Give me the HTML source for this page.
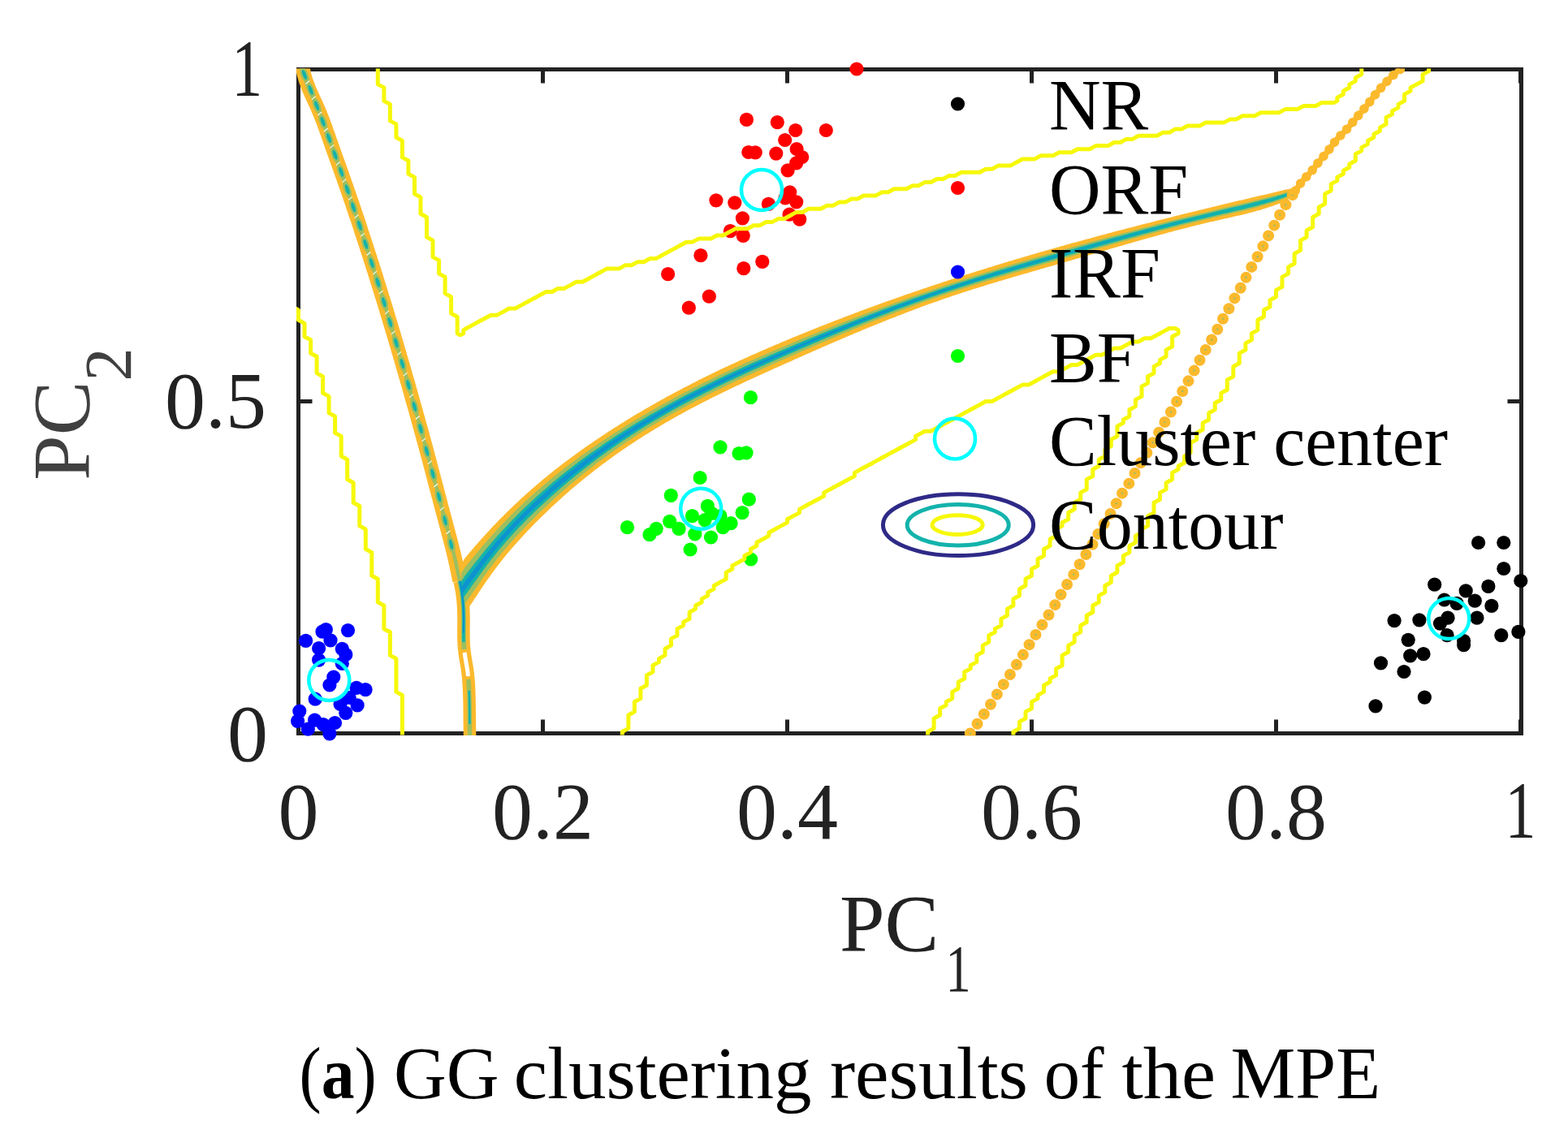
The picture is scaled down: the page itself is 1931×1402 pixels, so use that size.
<!DOCTYPE html>
<html><head><meta charset="utf-8"><title>GG clustering results of the MPE</title>
<style>html,body{margin:0;padding:0;background:#fff;}svg{display:block;}</style></head>
<body><svg width="1931" height="1402" viewBox="0 0 1931 1402">
<rect width="1931" height="1402" fill="#fff"/>
<g stroke="#222222" stroke-width="5" fill="none">
<rect x="367.5" y="85.5" width="1506.0" height="818.0" stroke-linejoin="miter"/>
<line x1="367.5" y1="903.5" x2="367.5" y2="886.5"/>
<line x1="367.5" y1="85.5" x2="367.5" y2="102.5"/>
<line x1="668.5" y1="903.5" x2="668.5" y2="886.5"/>
<line x1="668.5" y1="85.5" x2="668.5" y2="102.5"/>
<line x1="969.5" y1="903.5" x2="969.5" y2="886.5"/>
<line x1="969.5" y1="85.5" x2="969.5" y2="102.5"/>
<line x1="1270.5" y1="903.5" x2="1270.5" y2="886.5"/>
<line x1="1270.5" y1="85.5" x2="1270.5" y2="102.5"/>
<line x1="1571.5" y1="903.5" x2="1571.5" y2="886.5"/>
<line x1="1571.5" y1="85.5" x2="1571.5" y2="102.5"/>
<line x1="1872.5" y1="903.5" x2="1872.5" y2="886.5"/>
<line x1="1872.5" y1="85.5" x2="1872.5" y2="102.5"/>
<line x1="367.5" y1="903.5" x2="384.5" y2="903.5"/>
<line x1="1873.5" y1="903.5" x2="1856.5" y2="903.5"/>
<line x1="367.5" y1="494.5" x2="384.5" y2="494.5"/>
<line x1="1873.5" y1="494.5" x2="1856.5" y2="494.5"/>
<line x1="367.5" y1="85.5" x2="384.5" y2="85.5"/>
<line x1="1873.5" y1="85.5" x2="1856.5" y2="85.5"/>
</g>
<g fill="#000000"><circle cx="1820.6" cy="668.5" r="8.6"/><circle cx="1851.8" cy="668.5" r="8.6"/><circle cx="1851.8" cy="700.5" r="8.6"/><circle cx="1872.8" cy="715.5" r="8.6"/><circle cx="1766.7" cy="720.2" r="8.6"/><circle cx="1832.9" cy="722.4" r="8.6"/><circle cx="1805.2" cy="727.9" r="8.6"/><circle cx="1816.3" cy="740.2" r="8.6"/><circle cx="1836.9" cy="746.4" r="8.6"/><circle cx="1778.7" cy="739" r="8.6"/><circle cx="1794.1" cy="743.3" r="8.6"/><circle cx="1818.9" cy="761.2" r="8.6"/><circle cx="1783" cy="761.2" r="8.6"/><circle cx="1773.5" cy="768.1" r="8.6"/><circle cx="1782.1" cy="782.6" r="8.6"/><circle cx="1802.6" cy="789.5" r="8.6"/><circle cx="1802.6" cy="794.6" r="8.6"/><circle cx="1717.1" cy="764.7" r="8.6"/><circle cx="1747.9" cy="763.8" r="8.6"/><circle cx="1848.8" cy="782.6" r="8.6"/><circle cx="1869.9" cy="778.4" r="8.6"/><circle cx="1734.2" cy="788.3" r="8.6"/><circle cx="1736.7" cy="807.8" r="8.6"/><circle cx="1753" cy="805.7" r="8.6"/><circle cx="1700.5" cy="816.9" r="8.6"/><circle cx="1729" cy="827.5" r="8.6"/><circle cx="1754.4" cy="859.1" r="8.6"/><circle cx="1694" cy="869.9" r="8.6"/></g>
<g fill="#FF0000"><circle cx="919.4" cy="147.4" r="8.6"/><circle cx="957.3" cy="150.6" r="8.6"/><circle cx="979.7" cy="160.5" r="8.6"/><circle cx="1017.3" cy="160.5" r="8.6"/><circle cx="966.7" cy="172.5" r="8.6"/><circle cx="921.8" cy="187.5" r="8.6"/><circle cx="930.2" cy="187.9" r="8.6"/><circle cx="955.8" cy="189.1" r="8.6"/><circle cx="981.1" cy="183.5" r="8.6"/><circle cx="987.7" cy="193.5" r="8.6"/><circle cx="980.7" cy="200.9" r="8.6"/><circle cx="970.1" cy="209.9" r="8.6"/><circle cx="972.7" cy="236.8" r="8.6"/><circle cx="967" cy="244" r="8.6"/><circle cx="980.7" cy="248.8" r="8.6"/><circle cx="881.9" cy="246.8" r="8.6"/><circle cx="904.8" cy="249.8" r="8.6"/><circle cx="946.4" cy="251.4" r="8.6"/><circle cx="914.4" cy="268.8" r="8.6"/><circle cx="972.1" cy="264.2" r="8.6"/><circle cx="984.7" cy="270.2" r="8.6"/><circle cx="899.4" cy="284.7" r="8.6"/><circle cx="915.2" cy="290.3" r="8.6"/><circle cx="862.9" cy="314.7" r="8.6"/><circle cx="822.6" cy="337.7" r="8.6"/><circle cx="915.8" cy="330.7" r="8.6"/><circle cx="938.8" cy="322.3" r="8.6"/><circle cx="873.3" cy="365.2" r="8.6"/><circle cx="848.3" cy="379.2" r="8.6"/><circle cx="1055" cy="85" r="8.6"/></g>
<g fill="#0000FF"><circle cx="401.4" cy="775.5" r="8.6"/><circle cx="397" cy="778.2" r="8.6"/><circle cx="428.5" cy="776.6" r="8.6"/><circle cx="376.6" cy="789.3" r="8.6"/><circle cx="407" cy="788.8" r="8.6"/><circle cx="392.6" cy="798.7" r="8.6"/><circle cx="421.3" cy="799.3" r="8.6"/><circle cx="425.8" cy="806.4" r="8.6"/><circle cx="392.6" cy="813.1" r="8.6"/><circle cx="421.3" cy="817.5" r="8.6"/><circle cx="410.8" cy="834.1" r="8.6"/><circle cx="405.9" cy="844" r="8.6"/><circle cx="439" cy="847.4" r="8.6"/><circle cx="450.1" cy="849.6" r="8.6"/><circle cx="388.2" cy="861.2" r="8.6"/><circle cx="419.1" cy="867.3" r="8.6"/><circle cx="440.1" cy="868.9" r="8.6"/><circle cx="425.8" cy="878.3" r="8.6"/><circle cx="368.8" cy="876.1" r="8.6"/><circle cx="366.6" cy="888.3" r="8.6"/><circle cx="387.6" cy="887.2" r="8.6"/><circle cx="379.3" cy="898.2" r="8.6"/><circle cx="412.5" cy="890.5" r="8.6"/><circle cx="398.1" cy="892.7" r="8.6"/><circle cx="405.9" cy="903.8" r="8.6"/><circle cx="430.2" cy="859.5" r="8.6"/></g>
<g fill="#00FF00"><circle cx="924.4" cy="489.7" r="8.6"/><circle cx="887" cy="550.9" r="8.6"/><circle cx="910" cy="558.6" r="8.6"/><circle cx="919" cy="557.8" r="8.6"/><circle cx="862.1" cy="588.5" r="8.6"/><circle cx="826.3" cy="610.3" r="8.6"/><circle cx="922.3" cy="615.2" r="8.6"/><circle cx="914.1" cy="631.6" r="8.6"/><circle cx="871.4" cy="623.4" r="8.6"/><circle cx="852.5" cy="635.7" r="8.6"/><circle cx="824.7" cy="642.3" r="8.6"/><circle cx="808.2" cy="651.3" r="8.6"/><circle cx="800" cy="658.7" r="8.6"/><circle cx="772.5" cy="649.7" r="8.6"/><circle cx="836.1" cy="651.3" r="8.6"/><circle cx="855.8" cy="657.9" r="8.6"/><circle cx="875.5" cy="662" r="8.6"/><circle cx="890.3" cy="649.7" r="8.6"/><circle cx="900.1" cy="644.7" r="8.6"/><circle cx="887" cy="635.7" r="8.6"/><circle cx="876.3" cy="632.4" r="8.6"/><circle cx="850.1" cy="677" r="8.6"/><circle cx="924.7" cy="689" r="8.6"/><circle cx="868" cy="640.6" r="8.6"/></g>
<defs><clipPath id="ax"><rect x="365" y="84.5" width="1511" height="822"/></clipPath></defs>
<g clip-path="url(#ax)">
<g fill="none" stroke-linejoin="round" stroke-linecap="butt">
<path d="M495.4,905.5 L495.4,901.5 L495.4,897.4 L495.4,893.3 L495.4,889.2 L495.4,885.1 L495.4,881.0 L495.4,876.9 L495.4,872.8 L495.4,868.7 L495.4,864.6 L495.4,860.6 L495.4,856.5 L491.7,854.4 L487.9,852.4 L487.9,848.3 L487.9,844.2 L487.9,840.1 L487.9,836.0 L487.9,831.9 L487.9,827.8 L487.9,823.7 L487.9,819.7 L487.9,815.6 L487.9,811.5 L484.1,809.4 L480.4,807.4 L480.4,803.3 L480.4,799.2 L480.4,795.1 L480.4,791.0 L480.4,786.9 L480.4,782.8 L480.4,778.8 L476.6,776.7 L472.9,774.7 L472.9,770.6 L472.9,766.5 L472.9,762.4 L472.9,758.3 L472.9,754.2 L472.9,750.1 L472.9,746.0 L469.1,744.0 L465.3,741.9 L465.3,737.9 L465.3,733.8 L465.3,729.7 L465.3,725.6 L465.3,721.5 L465.3,717.4 L465.3,713.3 L461.6,711.3 L457.8,709.2 L457.8,705.1 L457.8,701.0 L457.8,697.0 L457.8,692.9 L457.8,688.8 L457.8,684.7 L457.8,680.6 L454.0,678.5 L450.3,676.5 L450.3,672.4 L450.3,668.3 L450.3,664.2 L450.3,660.1 L450.3,656.1 L450.3,652.0 L446.5,649.9 L442.8,647.9 L442.8,643.8 L442.8,639.7 L442.8,635.6 L442.8,631.5 L442.8,627.4 L442.8,623.3 L439.0,621.3 L435.2,619.2 L435.2,615.2 L435.2,611.1 L435.2,607.0 L435.2,602.9 L435.2,598.8 L435.2,594.7 L431.5,592.7 L427.7,590.6 L427.7,586.5 L427.7,582.4 L427.7,578.3 L427.7,574.3 L427.7,570.2 L427.7,566.1 L423.9,564.0 L420.2,562.0 L420.2,557.9 L420.2,553.8 L420.2,549.7 L420.2,545.6 L420.2,541.5 L420.2,537.4 L416.4,535.4 L412.6,533.4 L412.6,529.3 L412.6,525.2 L412.6,521.1 L412.6,517.0 L412.6,512.9 L408.9,510.9 L405.1,508.8 L405.1,504.7 L405.1,500.6 L405.1,496.5 L405.1,492.5 L405.1,488.4 L401.4,486.3 L397.6,484.3 L397.6,480.2 L397.6,476.1 L397.6,472.0 L397.6,467.9 L397.6,463.8 L393.8,461.8 L390.1,459.7 L390.1,455.6 L390.1,451.6 L390.1,447.5 L390.1,443.4 L390.1,439.3 L386.3,437.2 L382.6,435.2 L382.6,431.1 L382.6,427.0 L382.6,422.9 L382.6,418.8 L378.8,416.8 L375.0,414.7 L375.0,410.7 L375.0,406.6 L375.0,402.5 L375.0,398.4 L371.3,396.3 L367.5,394.3 L367.5,390.2 L367.5,386.1 L367.5,382.0 L363.7,380.0" stroke="#F6F80A" stroke-width="5"/>
<path d="M465.3,83.5 L465.3,87.5 L465.3,91.6 L465.3,95.7 L465.3,99.8 L465.3,103.9 L469.1,105.9 L472.9,108.0 L472.9,112.1 L472.9,116.2 L472.9,120.3 L472.9,124.4 L476.6,126.4 L480.4,128.4 L480.4,132.5 L480.4,136.6 L480.4,140.7 L480.4,144.8 L480.4,148.9 L484.1,150.9 L487.9,153.0 L487.9,157.1 L487.9,161.2 L487.9,165.3 L487.9,169.3 L491.7,171.4 L495.4,173.4 L495.4,177.5 L495.4,181.6 L495.4,185.7 L495.4,189.8 L495.4,193.9 L499.2,195.9 L502.9,198.0 L502.9,202.1 L502.9,206.2 L502.9,210.2 L502.9,214.3 L506.7,216.4 L510.5,218.4 L510.5,222.5 L510.5,226.6 L510.5,230.7 L510.5,234.8 L510.5,238.9 L514.2,240.9 L518.0,243.0 L518.0,247.1 L518.0,251.1 L518.0,255.2 L518.0,259.3 L518.0,263.4 L521.8,265.5 L525.5,267.5 L525.5,271.6 L525.5,275.7 L525.5,279.8 L525.5,283.9 L525.5,288.0 L525.5,292.0 L529.3,294.1 L533.0,296.1 L533.0,300.2 L533.0,304.3 L533.0,308.4 L533.0,312.5 L533.0,316.6 L536.8,318.6 L540.6,320.7 L540.6,324.8 L540.6,328.9 L540.6,332.9 L540.6,337.0 L544.3,339.1 L548.1,341.1 L548.1,345.2 L548.1,349.3 L548.1,353.4 L548.1,357.5 L548.1,361.6 L551.9,363.6 L555.6,365.7 L555.6,369.8 L555.6,373.8 L555.6,377.9 L555.6,382.0 L555.6,386.1 L559.4,388.2 L563.2,390.2 L563.2,394.3 L563.2,398.4 L563.2,402.5 L563.2,406.6 L563.2,410.7 L566.9,412.7 L570.7,410.7 L570.7,406.6 L574.4,404.5 L578.2,402.5 L582.0,400.4 L585.7,398.4 L589.5,396.3 L593.2,394.3 L597.0,392.2 L600.8,390.2 L604.5,388.2 L612.1,388.2 L615.8,386.1 L619.6,384.1 L623.3,382.0 L627.1,380.0 L634.6,380.0 L638.4,377.9 L642.2,375.9 L645.9,373.8 L649.7,371.8 L653.5,369.8 L657.2,367.7 L661.0,365.7 L664.7,363.6 L668.5,361.6 L672.3,359.5 L679.8,359.5 L683.5,357.5 L687.3,355.4 L694.8,355.4 L698.6,353.4 L702.4,351.4 L706.1,349.3 L709.9,347.3 L717.4,347.3 L721.2,345.2 L724.9,343.2 L728.7,341.1 L732.5,339.1 L736.2,337.0 L740.0,335.0 L743.8,332.9 L747.5,330.9 L755.0,330.9 L762.6,330.9 L766.3,328.9 L770.1,326.8 L777.6,326.8 L781.4,324.8 L785.1,322.7 L792.7,322.7 L796.4,320.7 L800.2,318.6 L807.7,318.6 L811.5,316.6 L815.2,314.5 L819.0,312.5 L822.8,310.4 L826.5,308.4 L830.3,306.4 L834.0,304.3 L837.8,302.3 L841.6,300.2 L845.3,298.2 L852.9,298.2 L856.6,296.1 L860.4,294.1 L867.9,294.1 L875.4,294.1 L879.2,292.0 L883.0,290.0 L890.5,290.0 L894.2,288.0 L898.0,285.9 L901.8,283.9 L905.5,281.8 L913.1,281.8 L920.6,281.8 L924.4,279.8 L928.1,277.7 L935.6,277.7 L939.4,275.7 L943.2,273.6 L950.7,273.6 L954.5,271.6 L958.2,269.6 L965.7,269.6 L969.5,267.5 L973.3,265.5 L977.0,263.4 L980.8,261.4 L988.3,261.4 L992.1,259.3 L995.8,257.3 L1003.4,257.3 L1010.9,257.3 L1014.7,255.2 L1018.4,253.2 L1025.9,253.2 L1029.7,251.1 L1033.5,249.1 L1041.0,249.1 L1044.8,247.1 L1048.5,245.0 L1056.0,245.0 L1059.8,243.0 L1063.6,240.9 L1071.1,240.9 L1078.6,240.9 L1082.4,238.9 L1086.1,236.8 L1093.7,236.8 L1097.4,234.8 L1101.2,232.7 L1108.7,232.7 L1116.2,232.7 L1120.0,230.7 L1123.8,228.7 L1131.3,228.7 L1135.0,226.6 L1138.8,224.6 L1146.3,224.6 L1150.1,222.5 L1153.9,220.5 L1161.4,220.5 L1165.2,218.4 L1168.9,216.4 L1176.4,216.4 L1180.2,214.3 L1184.0,212.3 L1191.5,212.3 L1199.0,212.3 L1206.5,212.3 L1210.3,210.2 L1214.1,208.2 L1221.6,208.2 L1225.4,206.2 L1229.1,204.1 L1236.6,204.1 L1244.2,204.1 L1247.9,202.1 L1251.7,200.0 L1255.5,198.0 L1259.2,195.9 L1266.7,195.9 L1274.3,195.9 L1278.0,193.9 L1281.8,191.8 L1289.3,191.8 L1296.8,191.8 L1300.6,189.8 L1304.4,187.8 L1311.9,187.8 L1319.4,187.8 L1323.2,185.7 L1326.9,183.7 L1334.5,183.7 L1342.0,183.7 L1345.8,181.6 L1349.5,179.6 L1357.0,179.6 L1364.6,179.6 L1368.3,177.5 L1372.1,175.5 L1379.6,175.5 L1383.4,173.4 L1387.1,171.4 L1394.7,171.4 L1398.4,169.3 L1402.2,167.3 L1409.7,167.3 L1417.2,167.3 L1424.8,167.3 L1428.5,165.3 L1432.3,163.2 L1439.8,163.2 L1443.6,161.2 L1447.3,159.1 L1454.9,159.1 L1458.6,157.1 L1462.4,155.0 L1469.9,155.0 L1477.4,155.0 L1481.2,153.0 L1485.0,150.9 L1492.5,150.9 L1500.0,150.9 L1507.5,150.9 L1511.3,148.9 L1515.1,146.9 L1522.6,146.9 L1526.3,144.8 L1530.1,142.8 L1537.6,142.8 L1545.2,142.8 L1548.9,140.7 L1552.7,138.7 L1560.2,138.7 L1567.7,138.7 L1575.3,138.7 L1579.0,136.6 L1582.8,134.6 L1590.3,134.6 L1597.8,134.6 L1601.6,132.5 L1605.4,130.5 L1612.9,130.5 L1620.4,130.5 L1624.2,128.4 L1627.9,126.4 L1635.5,126.4 L1643.0,126.4 L1646.8,124.4 L1646.8,120.3 L1650.5,118.2 L1654.3,116.2 L1654.3,112.1 L1658.0,110.0 L1661.8,108.0 L1661.8,103.9 L1665.6,101.9 L1669.3,99.8 L1669.3,95.7 L1673.1,93.7 L1676.8,91.6 L1676.8,87.5 L1676.8,83.5" stroke="#F6F80A" stroke-width="5"/>
<path d="M1142.6,905.5 L1142.6,901.5 L1146.3,899.4 L1150.1,897.4 L1150.1,893.3 L1150.1,889.2 L1150.1,885.1 L1153.9,883.0 L1157.6,881.0 L1157.6,876.9 L1157.6,872.8 L1161.4,870.8 L1165.2,868.7 L1165.2,864.6 L1168.9,862.6 L1172.7,860.6 L1172.7,856.5 L1172.7,852.4 L1176.4,850.3 L1180.2,848.3 L1180.2,844.2 L1180.2,840.1 L1184.0,838.1 L1187.7,836.0 L1187.7,831.9 L1187.7,827.8 L1191.5,825.8 L1195.2,823.7 L1195.2,819.7 L1199.0,817.6 L1202.8,815.6 L1202.8,811.5 L1202.8,807.4 L1206.5,805.3 L1210.3,803.3 L1210.3,799.2 L1210.3,795.1 L1214.1,793.1 L1217.8,791.0 L1217.8,786.9 L1217.8,782.8 L1221.6,780.8 L1225.4,778.8 L1225.4,774.7 L1229.1,772.6 L1232.9,770.6 L1232.9,766.5 L1232.9,762.4 L1236.6,760.4 L1240.4,758.3 L1240.4,754.2 L1240.4,750.1 L1244.2,748.1 L1247.9,746.0 L1247.9,741.9 L1247.9,737.9 L1251.7,735.8 L1255.5,733.8 L1255.5,729.7 L1255.5,725.6 L1259.2,723.5 L1263.0,721.5 L1263.0,717.4 L1263.0,713.3 L1266.7,711.3 L1270.5,709.2 L1270.5,705.1 L1270.5,701.0 L1274.3,699.0 L1278.0,697.0 L1278.0,692.9 L1278.0,688.8 L1281.8,686.7 L1285.5,684.7 L1285.5,680.6 L1285.5,676.5 L1289.3,674.5 L1293.1,672.4 L1293.1,668.3 L1293.1,664.2 L1296.8,662.2 L1300.6,660.1 L1300.6,656.1 L1300.6,652.0 L1304.4,649.9 L1308.1,647.9 L1308.1,643.8 L1311.9,641.7 L1315.7,639.7 L1315.7,635.6 L1315.7,631.5 L1319.4,629.5 L1323.2,627.4 L1323.2,623.3 L1323.2,619.2 L1326.9,617.2 L1330.7,615.2 L1330.7,611.1 L1330.7,607.0 L1334.5,604.9 L1338.2,602.9 L1338.2,598.8 L1338.2,594.7 L1338.2,590.6 L1342.0,588.6 L1345.8,586.5 L1345.8,582.4 L1345.8,578.3 L1349.5,576.3 L1353.3,574.3 L1353.3,570.2 L1353.3,566.1 L1357.0,564.0 L1360.8,562.0 L1360.8,557.9 L1360.8,553.8 L1364.6,551.8 L1368.3,549.7 L1368.3,545.6 L1368.3,541.5 L1372.1,539.5 L1375.9,537.4 L1375.9,533.4 L1375.9,529.3 L1375.9,525.2 L1379.6,523.1 L1383.4,521.1 L1383.4,517.0 L1387.1,515.0 L1390.9,512.9 L1390.9,508.8 L1390.9,504.7 L1394.7,502.7 L1398.4,500.6 L1398.4,496.5 L1398.4,492.5 L1402.2,490.4 L1406.0,488.4 L1406.0,484.3 L1406.0,480.2 L1406.0,476.1 L1409.7,474.1 L1413.5,472.0 L1413.5,467.9 L1413.5,463.8 L1417.2,461.8 L1421.0,459.7 L1421.0,455.6 L1421.0,451.6 L1424.8,449.5 L1428.5,447.5 L1428.5,443.4 L1432.3,441.3 L1436.1,439.3 L1436.1,435.2 L1436.1,431.1 L1439.8,429.1 L1443.6,427.0 L1443.6,422.9 L1443.6,418.8 L1443.6,414.7 L1447.3,412.7 L1451.1,410.7 L1451.1,406.6 L1447.3,404.5 L1439.8,404.5 L1436.1,406.6 L1432.3,408.6 L1428.5,410.7 L1424.8,412.7 L1421.0,414.7 L1417.2,416.8 L1409.7,416.8 L1406.0,418.8 L1402.2,420.9 L1394.7,420.9 L1390.9,422.9 L1387.1,425.0 L1383.4,427.0 L1379.6,429.1 L1372.1,429.1 L1368.3,431.1 L1364.6,433.1 L1360.8,435.2 L1357.0,437.2 L1349.5,437.2 L1345.8,439.3 L1342.0,441.3 L1338.2,443.4 L1334.5,445.4 L1330.7,447.5 L1326.9,449.5 L1319.4,449.5 L1315.7,451.6 L1311.9,453.6 L1308.1,455.6 L1304.4,457.7 L1296.8,457.7 L1293.1,459.7 L1289.3,461.8 L1285.5,463.8 L1281.8,465.9 L1278.0,467.9 L1274.3,470.0 L1270.5,472.0 L1266.7,474.1 L1259.2,474.1 L1255.5,476.1 L1251.7,478.1 L1247.9,480.2 L1244.2,482.2 L1240.4,484.3 L1236.6,486.3 L1232.9,488.4 L1229.1,490.4 L1225.4,492.5 L1221.6,494.5 L1214.1,494.5 L1210.3,496.5 L1206.5,498.6 L1202.8,500.6 L1199.0,502.7 L1195.2,504.7 L1191.5,506.8 L1187.7,508.8 L1184.0,510.9 L1180.2,512.9 L1176.4,515.0 L1172.7,517.0 L1168.9,519.0 L1165.2,521.1 L1161.4,523.1 L1157.6,525.2 L1153.9,527.2 L1150.1,529.3 L1146.3,531.3 L1138.8,531.3 L1135.0,533.4 L1131.3,535.4 L1127.5,537.4 L1127.5,541.5 L1123.8,543.6 L1120.0,545.6 L1116.2,547.7 L1112.5,549.7 L1108.7,551.8 L1105.0,553.8 L1101.2,555.9 L1097.4,557.9 L1093.7,559.9 L1089.9,562.0 L1086.1,564.0 L1082.4,566.1 L1078.6,568.1 L1074.9,570.2 L1071.1,572.2 L1067.3,574.3 L1063.6,576.3 L1059.8,578.3 L1056.0,580.4 L1052.3,582.4 L1052.3,586.5 L1048.5,588.6 L1044.8,590.6 L1041.0,592.7 L1037.2,594.7 L1033.5,596.8 L1029.7,598.8 L1025.9,600.8 L1022.2,602.9 L1018.4,604.9 L1014.7,607.0 L1014.7,611.1 L1010.9,613.1 L1007.1,615.2 L1003.4,617.2 L999.6,619.2 L995.8,621.3 L992.1,623.3 L988.3,625.4 L984.5,627.4 L984.5,631.5 L980.8,633.6 L977.0,635.6 L973.3,637.6 L969.5,639.7 L969.5,643.8 L965.7,645.8 L962.0,647.9 L958.2,649.9 L954.5,652.0 L950.7,654.0 L946.9,656.1 L946.9,660.1 L943.2,662.2 L939.4,664.2 L935.6,666.3 L931.9,668.3 L931.9,672.4 L928.1,674.5 L924.4,676.5 L924.4,680.6 L920.6,682.6 L916.8,684.7 L916.8,688.8 L913.1,690.8 L909.3,692.9 L905.5,694.9 L901.8,697.0 L901.8,701.0 L898.0,703.1 L894.2,705.1 L894.2,709.2 L894.2,713.3 L890.5,715.4 L886.7,717.4 L883.0,719.5 L879.2,721.5 L879.2,725.6 L875.4,727.6 L871.7,729.7 L871.7,733.8 L867.9,735.8 L864.2,737.9 L864.2,741.9 L860.4,744.0 L856.6,746.0 L856.6,750.1 L852.9,752.2 L849.1,754.2 L849.1,758.3 L849.1,762.4 L845.3,764.4 L841.6,766.5 L841.6,770.6 L837.8,772.6 L834.0,774.7 L834.0,778.8 L834.0,782.8 L830.3,784.9 L826.5,786.9 L826.5,791.0 L826.5,795.1 L822.8,797.2 L819.0,799.2 L819.0,803.3 L819.0,807.4 L815.2,809.4 L811.5,811.5 L811.5,815.6 L807.7,817.6 L804.0,819.7 L804.0,823.7 L804.0,827.8 L800.2,829.9 L796.4,831.9 L796.4,836.0 L796.4,840.1 L796.4,844.2 L792.7,846.2 L788.9,848.3 L788.9,852.4 L788.9,856.5 L788.9,860.6 L785.1,862.6 L781.4,864.6 L781.4,868.7 L781.4,872.8 L781.4,876.9 L777.6,879.0 L773.9,881.0 L773.9,885.1 L773.9,889.2 L773.9,893.3 L773.9,897.4 L770.1,899.4 L766.3,901.5 L766.3,905.5" stroke="#F6F80A" stroke-width="5"/>
<path d="M1759.6,83.5 L1759.6,87.5 L1755.9,89.6 L1752.1,91.6 L1752.1,95.7 L1752.1,99.8 L1748.3,101.9 L1744.6,103.9 L1740.8,105.9 L1737.1,108.0 L1737.1,112.1 L1733.3,114.1 L1729.5,116.2 L1729.5,120.3 L1729.5,124.4 L1725.8,126.4 L1722.0,128.4 L1722.0,132.5 L1718.2,134.6 L1714.5,136.6 L1714.5,140.7 L1710.7,142.8 L1707.0,144.8 L1707.0,148.9 L1707.0,153.0 L1703.2,155.0 L1699.4,157.1 L1699.4,161.2 L1695.7,163.2 L1691.9,165.3 L1691.9,169.3 L1688.1,171.4 L1684.4,173.4 L1684.4,177.5 L1680.6,179.6 L1676.8,181.6 L1676.8,185.7 L1673.1,187.8 L1669.3,189.8 L1669.3,193.9 L1669.3,198.0 L1665.6,200.0 L1661.8,202.1 L1661.8,206.2 L1658.0,208.2 L1654.3,210.2 L1654.3,214.3 L1650.5,216.4 L1646.8,218.4 L1646.8,222.5 L1643.0,224.6 L1639.2,226.6 L1639.2,230.7 L1639.2,234.8 L1635.5,236.8 L1631.7,238.9 L1631.7,243.0 L1631.7,247.1 L1631.7,251.1 L1627.9,253.2 L1624.2,255.2 L1624.2,259.3 L1624.2,263.4 L1620.4,265.5 L1616.7,267.5 L1616.7,271.6 L1616.7,275.7 L1616.7,279.8 L1612.9,281.8 L1609.1,283.9 L1609.1,288.0 L1609.1,292.0 L1605.4,294.1 L1601.6,296.1 L1601.6,300.2 L1601.6,304.3 L1601.6,308.4 L1597.8,310.4 L1594.1,312.5 L1594.1,316.6 L1594.1,320.7 L1594.1,324.8 L1590.3,326.8 L1586.6,328.9 L1586.6,332.9 L1586.6,337.0 L1582.8,339.1 L1579.0,341.1 L1579.0,345.2 L1579.0,349.3 L1579.0,353.4 L1575.3,355.4 L1571.5,357.5 L1571.5,361.6 L1571.5,365.7 L1567.7,367.7 L1564.0,369.8 L1564.0,373.8 L1564.0,377.9 L1560.2,380.0 L1556.5,382.0 L1556.5,386.1 L1556.5,390.2 L1552.7,392.2 L1548.9,394.3 L1548.9,398.4 L1548.9,402.5 L1548.9,406.6 L1545.2,408.6 L1541.4,410.7 L1541.4,414.7 L1541.4,418.8 L1537.6,420.9 L1533.9,422.9 L1533.9,427.0 L1533.9,431.1 L1530.1,433.1 L1526.3,435.2 L1526.3,439.3 L1526.3,443.4 L1526.3,447.5 L1522.6,449.5 L1518.8,451.6 L1518.8,455.6 L1518.8,459.7 L1518.8,463.8 L1515.1,465.9 L1511.3,467.9 L1511.3,472.0 L1511.3,476.1 L1511.3,480.2 L1507.5,482.2 L1503.8,484.3 L1503.8,488.4 L1503.8,492.5 L1500.0,494.5 L1496.2,496.5 L1496.2,500.6 L1496.2,504.7 L1492.5,506.8 L1488.7,508.8 L1488.7,512.9 L1488.7,517.0 L1485.0,519.0 L1481.2,521.1 L1481.2,525.2 L1481.2,529.3 L1477.4,531.3 L1473.7,533.4 L1473.7,537.4 L1473.7,541.5 L1469.9,543.6 L1466.2,545.6 L1466.2,549.7 L1466.2,553.8 L1466.2,557.9 L1462.4,559.9 L1458.6,562.0 L1458.6,566.1 L1458.6,570.2 L1454.9,572.2 L1451.1,574.3 L1451.1,578.3 L1447.3,580.4 L1443.6,582.4 L1443.6,586.5 L1443.6,590.6 L1439.8,592.7 L1436.1,594.7 L1436.1,598.8 L1436.1,602.9 L1432.3,604.9 L1428.5,607.0 L1428.5,611.1 L1428.5,615.2 L1424.8,617.2 L1421.0,619.2 L1421.0,623.3 L1421.0,627.4 L1421.0,631.5 L1417.2,633.6 L1413.5,635.6 L1413.5,639.7 L1413.5,643.8 L1413.5,647.9 L1409.7,649.9 L1406.0,652.0 L1406.0,656.1 L1402.2,658.1 L1398.4,660.1 L1398.4,664.2 L1398.4,668.3 L1394.7,670.4 L1390.9,672.4 L1390.9,676.5 L1390.9,680.6 L1387.1,682.6 L1383.4,684.7 L1383.4,688.8 L1383.4,692.9 L1379.6,694.9 L1375.9,697.0 L1375.9,701.0 L1375.9,705.1 L1372.1,707.2 L1368.3,709.2 L1368.3,713.3 L1368.3,717.4 L1364.6,719.5 L1360.8,721.5 L1360.8,725.6 L1360.8,729.7 L1357.0,731.7 L1353.3,733.8 L1353.3,737.9 L1353.3,741.9 L1349.5,744.0 L1345.8,746.0 L1345.8,750.1 L1345.8,754.2 L1342.0,756.3 L1338.2,758.3 L1338.2,762.4 L1338.2,766.5 L1334.5,768.5 L1330.7,770.6 L1330.7,774.7 L1330.7,778.8 L1326.9,780.8 L1323.2,782.8 L1323.2,786.9 L1323.2,791.0 L1319.4,793.1 L1315.7,795.1 L1315.7,799.2 L1315.7,803.3 L1311.9,805.3 L1308.1,807.4 L1308.1,811.5 L1308.1,815.6 L1308.1,819.7 L1304.4,821.7 L1300.6,823.7 L1300.6,827.8 L1300.6,831.9 L1296.8,834.0 L1293.1,836.0 L1293.1,840.1 L1289.3,842.2 L1285.5,844.2 L1285.5,848.3 L1285.5,852.4 L1281.8,854.4 L1278.0,856.5 L1278.0,860.6 L1274.3,862.6 L1270.5,864.6 L1270.5,868.7 L1270.5,872.8 L1266.7,874.9 L1263.0,876.9 L1263.0,881.0 L1263.0,885.1 L1259.2,887.1 L1255.5,889.2 L1255.5,893.3 L1255.5,897.4 L1251.7,899.4 L1247.9,901.5 L1247.9,905.5" stroke="#F6F80A" stroke-width="5"/>
</g>
<g stroke="none">
<path d="M372.5,80.0 L372.7,82.2 L373.0,84.4 L373.4,86.6 L373.8,88.8 L374.3,91.0 L374.9,93.1 L375.5,95.2 L376.1,97.4 L376.8,99.5 L377.5,101.6 L378.3,103.6 L379.1,105.7 L379.9,107.8 L380.7,109.8 L381.6,111.9 L382.5,113.9 L383.4,116.0 L384.4,118.0 L385.3,120.1 L386.2,122.1 L387.2,124.1 L388.1,126.2 L389.0,128.2 L390.0,130.3 L390.9,132.3 L391.8,134.4 L392.6,136.4 L393.5,138.5 L394.3,140.5 L395.2,142.6 L396.0,144.7 L396.8,146.8 L397.6,148.8 L398.4,150.9 L399.2,153.0 L399.9,155.1 L400.7,157.2 L401.5,159.3 L402.2,161.4 L402.9,163.5 L403.7,165.6 L404.4,167.7 L405.2,169.8 L405.9,171.9 L406.6,174.0 L407.4,176.1 L408.1,178.1 L408.8,180.2 L409.6,182.3 L410.3,184.4 L411.1,186.5 L411.8,188.6 L412.6,190.7 L413.3,192.8 L414.1,194.9 L414.8,197.0 L415.6,199.1 L416.3,201.2 L417.1,203.3 L417.8,205.4 L418.6,207.5 L419.3,209.6 L420.1,211.7 L420.8,213.8 L421.6,215.9 L422.3,218.0 L423.1,220.1 L423.8,222.2 L424.5,224.3 L425.3,226.4 L426.0,228.5 L426.8,230.6 L427.5,232.7 L428.2,234.8 L428.9,236.9 L429.7,239.0 L430.4,241.1 L431.1,243.2 L431.8,245.3 L432.6,247.4 L433.3,249.5 L434.0,251.6 L434.7,253.7 L435.4,255.8 L436.1,257.9 L436.8,260.1 L437.5,262.2 L438.2,264.3 L438.9,266.4 L439.7,268.5 L440.4,270.6 L441.1,272.7 L441.8,274.8 L442.5,276.9 L443.2,279.1 L443.9,281.2 L444.5,283.3 L445.2,285.4 L445.9,287.5 L446.6,289.6 L447.3,291.7 L448.0,293.9 L448.7,296.0 L449.4,298.1 L450.1,300.2 L450.8,302.3 L451.5,304.4 L452.1,306.6 L452.8,308.7 L453.5,310.8 L454.2,312.9 L454.9,315.0 L455.6,317.2 L456.2,319.3 L456.9,321.4 L457.6,323.5 L458.3,325.6 L458.9,327.8 L459.6,329.9 L460.3,332.0 L461.0,334.1 L461.6,336.2 L462.3,338.4 L463.0,340.5 L463.6,342.6 L464.3,344.7 L465.0,346.9 L465.6,349.0 L466.3,351.1 L466.9,353.2 L467.6,355.4 L468.3,357.5 L468.9,359.6 L469.6,361.7 L470.2,363.9 L470.9,366.0 L471.5,368.1 L472.2,370.2 L472.9,372.4 L473.5,374.5 L474.2,376.6 L474.8,378.8 L475.5,380.9 L476.1,383.0 L476.7,385.2 L477.4,387.3 L478.0,389.4 L478.7,391.5 L479.3,393.7 L480.0,395.8 L480.6,397.9 L481.2,400.1 L481.9,402.2 L482.5,404.3 L483.2,406.5 L483.8,408.6 L484.4,410.7 L485.1,412.9 L485.7,415.0 L486.3,417.1 L487.0,419.3 L487.6,421.4 L488.2,423.5 L488.9,425.7 L489.5,427.8 L490.1,429.9 L490.7,432.1 L491.4,434.2 L492.0,436.3 L492.6,438.5 L493.2,440.6 L493.9,442.8 L494.5,444.9 L495.1,447.0 L495.7,449.2 L496.3,451.3 L497.0,453.4 L497.6,455.6 L498.2,457.7 L498.8,459.9 L499.4,462.0 L500.0,464.1 L500.6,466.3 L501.3,468.4 L501.9,470.6 L502.5,472.7 L503.1,474.8 L503.7,477.0 L504.3,479.1 L504.9,481.3 L505.5,483.4 L506.1,485.5 L506.7,487.7 L507.3,489.8 L507.9,492.0 L508.5,494.1 L509.1,496.3 L509.7,498.4 L510.4,500.5 L511.0,502.7 L511.6,504.8 L512.2,507.0 L512.7,509.1 L513.3,511.3 L513.9,513.4 L514.5,515.5 L515.1,517.7 L515.7,519.8 L516.3,522.0 L516.9,524.1 L517.5,526.3 L518.1,528.4 L518.7,530.6 L519.3,532.7 L519.9,534.9 L520.5,537.0 L521.0,539.2 L521.6,541.3 L522.2,543.4 L522.8,545.6 L523.4,547.7 L524.0,549.9 L524.6,552.0 L525.1,554.2 L525.7,556.3 L526.3,558.5 L526.9,560.6 L527.4,562.8 L528.0,564.9 L528.6,567.1 L529.2,569.2 L529.7,571.4 L530.3,573.5 L530.9,575.7 L531.4,577.8 L532.0,580.0 L532.6,582.1 L533.1,584.3 L533.7,586.4 L534.3,588.6 L534.8,590.8 L535.4,592.9 L536.0,595.1 L536.5,597.2 L537.1,599.4 L537.7,601.5 L538.2,603.7 L538.8,605.8 L539.4,608.0 L539.9,610.1 L540.5,612.3 L541.1,614.4 L541.6,616.6 L542.2,618.7 L542.8,620.9 L543.3,623.0 L543.9,625.2 L544.5,627.3 L545.1,629.5 L545.6,631.6 L546.2,633.8 L546.8,635.9 L547.4,638.1 L547.9,640.2 L548.5,642.4 L549.1,644.5 L549.7,646.7 L550.2,648.8 L550.8,651.0 L551.4,653.2 L552.0,655.3 L552.5,657.5 L553.1,659.6 L553.7,661.8 L554.2,663.9 L554.8,666.1 L555.3,668.2 L555.9,670.4 L556.4,672.5 L557.0,674.7 L557.5,676.9 L558.0,679.0 L558.5,681.2 L559.1,683.3 L559.6,685.5 L560.1,687.7 L560.6,689.8 L561.1,692.0 L561.6,694.2 L562.1,696.4 L562.5,698.5 L563.0,700.7 L563.4,702.9 L563.9,705.1 L564.3,707.3 L564.8,709.4 L565.2,711.6 L565.6,713.8 L566.0,716.0" fill="none" stroke="#FBB92C" stroke-width="17.5" stroke-linejoin="round"/>
<path d="M566.0,716.0 L566.3,717.2 L566.6,718.5 L566.9,719.8 L567.2,721.0 L567.4,722.3 L567.7,723.5 L567.9,724.8 L568.1,726.0 L568.4,727.3 L568.6,728.6 L568.8,729.8 L569.0,731.1 L569.1,732.4 L569.3,733.6 L569.5,734.9 L569.6,736.2 L569.7,737.4 L569.9,738.7 L570.0,740.0 L570.1,741.3 L570.2,742.5 L570.3,743.8 L570.4,745.1 L570.5,746.4 L570.6,747.7 L570.6,748.9 L570.7,750.2 L570.8,751.5 L570.8,752.8 L570.8,754.1 L570.9,755.3 L570.9,756.6 L570.9,757.9 L571.0,759.2 L571.0,760.5 L571.0,761.7 L571.0,763.0 L571.0,764.3 L571.0,765.6 L571.0,766.9 L571.0,768.1 L571.0,769.4 L571.0,770.7 L570.9,772.0 L570.9,773.3 L570.9,774.5 L570.9,775.8 L570.9,777.1 L570.9,778.4 L570.9,779.7 L570.9,780.9 L570.9,782.2 L570.9,783.5 L570.9,784.8 L570.9,786.1 L571.0,787.3 L571.0,788.6 L571.0,789.9 L571.1,791.2 L571.2,792.5 L571.2,793.7 L571.3,795.0 L571.4,796.3 L571.5,797.6 L571.6,798.9 L571.7,800.1 L571.9,801.4 L572.0,802.7 L572.1,803.9 L572.3,805.2 L572.5,806.5 L572.7,807.8 L572.8,809.0 L573.0,810.3 L573.3,811.5 L573.5,812.8 L573.7,814.1 L573.9,815.3 L574.1,816.6 L574.3,817.9 L574.6,819.1 L574.8,820.4 L575.0,821.6 L575.2,822.9 L575.4,824.2 L575.6,825.4 L575.8,826.7 L575.9,828.0 L576.1,829.2 L576.2,830.5 L576.4,831.8 L576.5,833.1 L576.6,834.3 L576.7,835.6 L576.8,836.9 L577.0,838.2 L577.0,839.4 L577.1,840.7 L577.2,842.0 L577.3,843.3 L577.4,844.6 L577.4,845.8 L577.5,847.1 L577.6,848.4 L577.6,849.7 L577.7,851.0 L577.7,852.2 L577.8,853.5 L577.8,854.8 L577.9,856.1 L577.9,857.4 L577.9,858.6 L578.0,859.9 L578.0,861.2 L578.0,862.5 L578.1,863.8 L578.1,865.0 L578.1,866.3 L578.1,867.6 L578.1,868.9 L578.2,870.2 L578.2,871.4 L578.2,872.7 L578.2,874.0 L578.2,875.3 L578.2,876.6 L578.2,877.8 L578.3,879.1 L578.3,880.4 L578.3,881.7 L578.3,883.0 L578.3,884.2 L578.3,885.5 L578.3,886.8 L578.3,888.1 L578.3,889.4 L578.4,890.6 L578.4,891.9 L578.4,893.2 L578.4,894.5 L578.4,895.8 L578.4,897.0 L578.5,898.3 L578.5,899.6 L578.5,900.9 L578.5,902.2 L578.5,903.4 L578.6,904.7 L578.6,906.0" fill="none" stroke="#FBB92C" stroke-width="15.5" stroke-linejoin="round"/>
<path d="M568.0,694.4 L570.1,692.0 L572.1,688.2 L574.2,685.7 L576.2,683.2 L578.3,680.8 L580.3,678.4 L582.4,676.0 L584.4,673.6 L586.5,671.2 L588.6,668.9 L590.6,666.5 L592.7,664.2 L594.7,661.9 L596.8,659.7 L598.8,657.4 L600.9,655.2 L603.0,653.0 L605.0,650.8 L607.1,648.6 L609.1,646.4 L611.2,644.3 L613.2,642.1 L615.3,640.0 L617.3,637.9 L619.4,635.9 L621.5,633.8 L623.5,631.8 L625.6,629.8 L627.6,627.7 L629.7,625.8 L631.7,623.8 L633.8,621.8 L635.9,619.9 L637.9,617.9 L640.0,616.0 L642.0,614.1 L644.1,612.3 L646.1,610.4 L648.2,608.5 L650.2,606.7 L652.3,604.9 L654.4,603.1 L656.4,601.3 L658.5,599.5 L660.5,597.7 L662.6,596.0 L664.6,594.2 L666.7,592.5 L668.7,590.8 L670.8,589.1 L672.9,587.4 L674.9,585.7 L677.0,584.0 L679.0,582.4 L681.1,580.7 L683.1,579.1 L685.2,577.5 L687.3,575.9 L689.3,574.3 L691.4,572.7 L693.4,571.1 L695.5,569.6 L697.5,568.0 L699.6,566.5 L701.6,564.9 L703.7,563.4 L705.8,561.9 L707.8,560.4 L709.9,558.9 L711.9,557.4 L714.0,556.0 L716.0,554.5 L718.1,553.0 L720.2,551.6 L722.2,550.1 L724.3,548.7 L726.3,547.3 L728.4,545.9 L730.4,544.5 L732.5,543.1 L734.5,541.7 L736.6,540.3 L738.7,538.9 L740.7,537.5 L742.8,536.2 L744.8,534.8 L746.9,533.5 L748.9,532.1 L751.0,530.8 L753.1,529.5 L755.1,528.1 L757.2,526.8 L759.2,525.5 L761.3,524.2 L763.3,522.9 L765.4,521.6 L767.4,520.4 L769.5,519.1 L771.6,517.8 L773.6,516.5 L775.7,515.3 L777.7,514.0 L779.8,512.8 L781.8,511.6 L783.9,510.3 L785.9,509.1 L788.0,507.9 L790.1,506.7 L792.1,505.5 L794.2,504.3 L796.2,503.1 L798.3,501.9 L800.3,500.7 L802.4,499.5 L804.5,498.3 L806.5,497.2 L808.6,496.0 L810.6,494.8 L812.7,493.7 L814.7,492.5 L816.8,491.4 L818.8,490.3 L820.9,489.1 L823.0,488.0 L825.0,486.9 L827.1,485.8 L829.1,484.7 L831.2,483.6 L833.2,482.5 L835.3,481.4 L837.4,480.3 L839.4,479.2 L841.5,478.1 L843.5,477.1 L845.6,476.0 L847.6,474.9 L849.7,473.9 L851.7,472.8 L853.8,471.8 L855.9,470.7 L857.9,469.7 L860.0,468.6 L862.0,467.6 L864.1,466.6 L866.1,465.6 L868.2,464.5 L870.2,463.5 L872.3,462.5 L874.4,461.5 L876.4,460.5 L878.5,459.5 L880.5,458.5 L882.6,457.5 L884.6,456.6 L886.7,455.6 L888.8,454.6 L890.8,453.6 L892.9,452.6 L894.9,451.7 L897.0,450.7 L899.0,449.8 L901.1,448.8 L903.1,447.9 L905.2,446.9 L907.3,446.0 L909.3,445.0 L911.4,444.1 L913.4,443.2 L915.5,442.2 L917.5,441.3 L919.6,440.4 L921.7,439.4 L923.7,438.5 L925.8,437.6 L927.8,436.7 L929.9,435.8 L931.9,434.9 L934.0,434.0 L936.0,433.1 L938.1,432.2 L940.2,431.3 L942.2,430.4 L944.3,429.5 L946.3,428.6 L948.4,427.7 L950.4,426.9 L952.5,426.0 L954.5,425.1 L956.6,424.2 L958.7,423.4 L960.7,422.5 L962.8,421.6 L964.8,420.8 L966.9,419.9 L968.9,419.0 L971.0,418.2 L973.1,417.3 L975.1,416.5 L977.2,415.6 L979.2,414.8 L981.3,413.9 L983.3,413.1 L985.4,412.2 L987.4,411.4 L989.5,410.6 L991.6,409.7 L993.6,408.9 L995.7,408.1 L997.7,407.2 L999.8,406.4 L1001.8,405.6 L1003.9,404.8 L1006.0,403.9 L1008.0,403.1 L1010.1,402.3 L1012.1,401.5 L1014.2,400.7 L1016.2,399.9 L1018.3,399.1 L1020.3,398.3 L1022.4,397.5 L1024.5,396.7 L1026.5,395.9 L1028.6,395.1 L1030.6,394.3 L1032.7,393.5 L1034.7,392.7 L1036.8,391.9 L1038.8,391.1 L1040.9,390.3 L1043.0,389.5 L1045.0,388.8 L1047.1,388.0 L1049.1,387.2 L1051.2,386.4 L1053.2,385.6 L1055.3,384.9 L1057.4,384.1 L1059.4,383.3 L1061.5,382.6 L1063.5,381.8 L1065.6,381.1 L1067.6,380.3 L1069.7,379.5 L1071.7,378.8 L1073.8,378.0 L1075.9,377.3 L1077.9,376.5 L1080.0,375.8 L1082.0,375.0 L1084.1,374.3 L1086.1,373.5 L1088.2,372.8 L1090.3,372.1 L1092.3,371.3 L1094.4,370.6 L1096.4,369.9 L1098.5,369.1 L1100.5,368.4 L1102.6,367.7 L1104.6,366.9 L1106.7,366.2 L1108.8,365.5 L1110.8,364.8 L1112.9,364.1 L1114.9,363.3 L1117.0,362.6 L1119.0,361.9 L1121.1,361.2 L1123.2,360.5 L1125.2,359.8 L1127.3,359.1 L1129.3,358.4 L1131.4,357.7 L1133.4,357.0 L1135.5,356.3 L1137.5,355.6 L1139.6,354.9 L1141.7,354.2 L1143.7,353.5 L1145.8,352.8 L1147.8,352.1 L1149.9,351.4 L1151.9,350.7 L1154.0,350.0 L1156.0,349.4 L1158.1,348.7 L1160.2,348.0 L1162.2,347.3 L1164.3,346.7 L1166.3,346.0 L1168.4,345.3 L1170.4,344.6 L1172.5,344.0 L1174.6,343.3 L1176.6,342.6 L1178.7,342.0 L1180.7,341.3 L1182.8,340.6 L1184.8,340.0 L1186.9,339.3 L1188.9,338.7 L1191.0,338.0 L1193.1,337.4 L1195.1,336.7 L1197.2,336.1 L1199.2,335.4 L1201.3,334.8 L1203.3,334.1 L1205.4,333.5 L1207.5,332.8 L1209.5,332.2 L1211.6,331.5 L1213.6,330.9 L1215.7,330.3 L1217.7,329.6 L1219.8,329.0 L1221.8,328.4 L1223.9,327.7 L1226.0,327.1 L1228.0,326.5 L1230.1,325.8 L1232.1,325.2 L1234.2,324.6 L1236.2,324.0 L1238.3,323.3 L1240.3,322.7 L1242.4,322.1 L1244.5,321.5 L1246.5,320.9 L1248.6,320.3 L1250.6,319.6 L1252.7,319.0 L1254.7,318.4 L1256.8,317.8 L1258.9,317.2 L1260.9,316.6 L1263.0,316.0 L1265.0,315.4 L1267.1,314.8 L1269.1,314.2 L1271.2,313.6 L1273.2,313.0 L1275.3,312.4 L1277.4,311.8 L1279.4,311.2 L1281.5,310.6 L1283.5,310.0 L1285.6,309.4 L1287.6,308.8 L1289.7,308.2 L1291.8,307.7 L1293.8,307.1 L1295.9,306.5 L1297.9,305.9 L1300.0,305.3 L1302.0,304.7 L1304.1,304.2 L1306.1,303.6 L1308.2,303.0 L1310.3,302.4 L1312.3,301.8 L1314.4,301.3 L1316.4,300.7 L1318.5,300.1 L1320.5,299.6 L1322.6,299.0 L1324.6,298.4 L1326.7,297.9 L1328.8,297.3 L1330.8,296.7 L1332.9,296.2 L1334.9,295.6 L1337.0,295.0 L1339.0,294.5 L1341.1,293.9 L1343.2,293.4 L1345.2,292.8 L1347.3,292.2 L1349.3,291.7 L1351.4,291.1 L1353.4,290.6 L1355.5,290.0 L1357.5,289.5 L1359.6,288.9 L1361.7,288.4 L1363.7,287.8 L1365.8,287.3 L1367.8,286.7 L1369.9,286.2 L1371.9,285.6 L1374.0,285.1 L1376.1,284.6 L1378.1,284.0 L1380.2,283.5 L1382.2,282.9 L1384.3,282.4 L1386.3,281.9 L1388.4,281.3 L1390.4,280.8 L1392.5,280.3 L1394.6,279.7 L1396.6,279.2 L1398.7,278.7 L1400.7,278.1 L1402.8,277.6 L1404.8,277.1 L1406.9,276.5 L1408.9,276.0 L1411.0,275.5 L1413.1,275.0 L1415.1,274.4 L1417.2,273.9 L1419.2,273.4 L1421.3,272.9 L1423.3,272.3 L1425.4,271.8 L1427.5,271.3 L1429.5,270.8 L1431.6,270.3 L1433.6,269.7 L1435.7,269.2 L1437.7,268.7 L1439.8,268.2 L1441.8,267.7 L1443.9,267.2 L1446.0,266.6 L1448.0,266.1 L1450.1,265.6 L1452.1,265.1 L1454.2,264.6 L1456.2,264.1 L1458.3,263.6 L1460.4,263.1 L1462.4,262.6 L1464.5,262.1 L1466.5,261.6 L1468.6,261.0 L1470.6,260.5 L1472.7,260.0 L1474.7,259.5 L1476.8,259.0 L1478.9,258.5 L1480.9,258.0 L1483.0,257.5 L1485.0,257.0 L1487.1,256.5 L1489.1,256.0 L1491.2,255.5 L1493.3,255.0 L1495.3,254.5 L1497.4,254.0 L1499.4,253.5 L1501.5,253.0 L1503.5,252.6 L1505.6,252.1 L1507.6,251.6 L1509.7,251.1 L1511.8,250.6 L1513.8,250.1 L1515.9,249.6 L1517.9,249.1 L1520.0,248.6 L1522.0,248.1 L1524.1,247.6 L1526.1,247.1 L1528.2,246.7 L1530.3,246.2 L1532.3,245.7 L1534.4,245.2 L1536.4,244.7 L1538.5,244.2 L1540.5,243.7 L1542.6,243.3 L1544.7,242.8 L1546.7,242.3 L1548.8,241.8 L1550.8,241.3 L1552.9,240.8 L1554.9,240.4 L1557.0,239.9 L1559.0,239.4 L1561.1,238.9 L1563.2,238.4 L1565.2,237.9 L1567.3,237.5 L1569.3,237.0 L1571.4,236.5 L1573.4,236.0 L1575.5,235.5 L1577.6,235.1 L1579.6,234.6 L1581.7,234.1 L1583.7,233.6 L1585.8,233.2 L1587.8,232.7 L1589.9,232.2 L1591.9,231.7 L1594.0,231.3 L1594.0,240.6 L1591.9,242.1 L1589.9,243.5 L1587.8,244.8 L1585.8,245.9 L1583.7,247.0 L1581.7,248.0 L1579.6,249.0 L1577.6,249.9 L1575.5,250.7 L1573.4,251.5 L1571.4,252.3 L1569.3,253.0 L1567.3,253.7 L1565.2,254.4 L1563.2,255.1 L1561.1,255.8 L1559.0,256.5 L1557.0,257.1 L1554.9,257.7 L1552.9,258.4 L1550.8,259.0 L1548.8,259.6 L1546.7,260.1 L1544.7,260.7 L1542.6,261.3 L1540.5,261.8 L1538.5,262.3 L1536.4,262.9 L1534.4,263.4 L1532.3,263.9 L1530.3,264.4 L1528.2,264.9 L1526.1,265.4 L1524.1,265.8 L1522.0,266.3 L1520.0,266.8 L1517.9,267.3 L1515.9,267.7 L1513.8,268.2 L1511.8,268.7 L1509.7,269.1 L1507.6,269.6 L1505.6,270.1 L1503.5,270.5 L1501.5,271.0 L1499.4,271.4 L1497.4,271.9 L1495.3,272.4 L1493.3,272.9 L1491.2,273.3 L1489.1,273.8 L1487.1,274.3 L1485.0,274.8 L1483.0,275.3 L1480.9,275.8 L1478.9,276.3 L1476.8,276.8 L1474.7,277.3 L1472.7,277.8 L1470.6,278.3 L1468.6,278.8 L1466.5,279.3 L1464.5,279.9 L1462.4,280.4 L1460.4,280.9 L1458.3,281.4 L1456.2,282.0 L1454.2,282.5 L1452.1,283.0 L1450.1,283.6 L1448.0,284.1 L1446.0,284.6 L1443.9,285.2 L1441.8,285.7 L1439.8,286.3 L1437.7,286.8 L1435.7,287.4 L1433.6,287.9 L1431.6,288.5 L1429.5,289.1 L1427.5,289.6 L1425.4,290.2 L1423.3,290.8 L1421.3,291.3 L1419.2,291.9 L1417.2,292.5 L1415.1,293.0 L1413.1,293.6 L1411.0,294.2 L1408.9,294.8 L1406.9,295.3 L1404.8,295.9 L1402.8,296.5 L1400.7,297.1 L1398.7,297.7 L1396.6,298.2 L1394.6,298.8 L1392.5,299.4 L1390.4,300.0 L1388.4,300.6 L1386.3,301.2 L1384.3,301.8 L1382.2,302.4 L1380.2,303.0 L1378.1,303.6 L1376.1,304.2 L1374.0,304.8 L1371.9,305.3 L1369.9,305.9 L1367.8,306.5 L1365.8,307.1 L1363.7,307.7 L1361.7,308.3 L1359.6,308.9 L1357.5,309.5 L1355.5,310.1 L1353.4,310.7 L1351.4,311.3 L1349.3,311.9 L1347.3,312.5 L1345.2,313.1 L1343.2,313.7 L1341.1,314.3 L1339.0,314.9 L1337.0,315.5 L1334.9,316.1 L1332.9,316.7 L1330.8,317.3 L1328.8,317.9 L1326.7,318.5 L1324.6,319.1 L1322.6,319.7 L1320.5,320.3 L1318.5,320.9 L1316.4,321.5 L1314.4,322.1 L1312.3,322.7 L1310.3,323.3 L1308.2,323.9 L1306.1,324.5 L1304.1,325.1 L1302.0,325.7 L1300.0,326.3 L1297.9,326.9 L1295.9,327.5 L1293.8,328.1 L1291.8,328.7 L1289.7,329.2 L1287.6,329.8 L1285.6,330.4 L1283.5,331.0 L1281.5,331.6 L1279.4,332.2 L1277.4,332.8 L1275.3,333.4 L1273.2,334.0 L1271.2,334.6 L1269.1,335.2 L1267.1,335.8 L1265.0,336.4 L1263.0,336.9 L1260.9,337.5 L1258.9,338.1 L1256.8,338.7 L1254.7,339.3 L1252.7,339.9 L1250.6,340.5 L1248.6,341.1 L1246.5,341.7 L1244.5,342.3 L1242.4,343.0 L1240.3,343.6 L1238.3,344.2 L1236.2,344.8 L1234.2,345.4 L1232.1,346.0 L1230.1,346.6 L1228.0,347.2 L1226.0,347.9 L1223.9,348.5 L1221.8,349.1 L1219.8,349.7 L1217.7,350.3 L1215.7,351.0 L1213.6,351.6 L1211.6,352.2 L1209.5,352.9 L1207.5,353.5 L1205.4,354.2 L1203.3,354.8 L1201.3,355.4 L1199.2,356.1 L1197.2,356.7 L1195.1,357.4 L1193.1,358.1 L1191.0,358.7 L1188.9,359.4 L1186.9,360.0 L1184.8,360.7 L1182.8,361.4 L1180.7,362.1 L1178.7,362.7 L1176.6,363.4 L1174.6,364.1 L1172.5,364.8 L1170.4,365.5 L1168.4,366.2 L1166.3,366.9 L1164.3,367.6 L1162.2,368.3 L1160.2,369.0 L1158.1,369.7 L1156.0,370.4 L1154.0,371.2 L1151.9,371.9 L1149.9,372.6 L1147.8,373.4 L1145.8,374.1 L1143.7,374.8 L1141.7,375.6 L1139.6,376.3 L1137.5,377.1 L1135.5,377.8 L1133.4,378.6 L1131.4,379.4 L1129.3,380.1 L1127.3,380.9 L1125.2,381.7 L1123.2,382.4 L1121.1,383.2 L1119.0,384.0 L1117.0,384.8 L1114.9,385.6 L1112.9,386.4 L1110.8,387.2 L1108.8,387.9 L1106.7,388.7 L1104.6,389.5 L1102.6,390.4 L1100.5,391.2 L1098.5,392.0 L1096.4,392.8 L1094.4,393.6 L1092.3,394.4 L1090.3,395.2 L1088.2,396.1 L1086.1,396.9 L1084.1,397.7 L1082.0,398.5 L1080.0,399.4 L1077.9,400.2 L1075.9,401.1 L1073.8,401.9 L1071.7,402.7 L1069.7,403.6 L1067.6,404.4 L1065.6,405.3 L1063.5,406.1 L1061.5,407.0 L1059.4,407.9 L1057.4,408.7 L1055.3,409.6 L1053.2,410.4 L1051.2,411.3 L1049.1,412.2 L1047.1,413.0 L1045.0,413.9 L1043.0,414.8 L1040.9,415.7 L1038.8,416.5 L1036.8,417.4 L1034.7,418.3 L1032.7,419.2 L1030.6,420.1 L1028.6,420.9 L1026.5,421.8 L1024.5,422.7 L1022.4,423.6 L1020.3,424.5 L1018.3,425.4 L1016.2,426.3 L1014.2,427.2 L1012.1,428.1 L1010.1,429.0 L1008.0,429.9 L1006.0,430.8 L1003.9,431.7 L1001.8,432.6 L999.8,433.5 L997.7,434.4 L995.7,435.3 L993.6,436.2 L991.6,437.1 L989.5,438.0 L987.4,438.9 L985.4,439.9 L983.3,440.8 L981.3,441.7 L979.2,442.6 L977.2,443.5 L975.1,444.4 L973.1,445.4 L971.0,446.3 L968.9,447.2 L966.9,448.1 L964.8,449.0 L962.8,449.9 L960.7,450.9 L958.7,451.8 L956.6,452.7 L954.5,453.6 L952.5,454.6 L950.4,455.5 L948.4,456.4 L946.3,457.3 L944.3,458.3 L942.2,459.2 L940.2,460.1 L938.1,461.1 L936.0,462.0 L934.0,462.9 L931.9,463.9 L929.9,464.8 L927.8,465.8 L925.8,466.7 L923.7,467.6 L921.7,468.6 L919.6,469.6 L917.5,470.5 L915.5,471.5 L913.4,472.4 L911.4,473.4 L909.3,474.4 L907.3,475.3 L905.2,476.3 L903.1,477.3 L901.1,478.3 L899.0,479.2 L897.0,480.2 L894.9,481.2 L892.9,482.2 L890.8,483.2 L888.8,484.2 L886.7,485.2 L884.6,486.2 L882.6,487.2 L880.5,488.3 L878.5,489.3 L876.4,490.3 L874.4,491.3 L872.3,492.4 L870.2,493.4 L868.2,494.5 L866.1,495.5 L864.1,496.6 L862.0,497.6 L860.0,498.7 L857.9,499.8 L855.9,500.9 L853.8,501.9 L851.7,503.0 L849.7,504.1 L847.6,505.2 L845.6,506.3 L843.5,507.4 L841.5,508.6 L839.4,509.7 L837.4,510.8 L835.3,512.0 L833.2,513.1 L831.2,514.3 L829.1,515.4 L827.1,516.6 L825.0,517.8 L823.0,518.9 L820.9,520.1 L818.8,521.3 L816.8,522.5 L814.7,523.7 L812.7,525.0 L810.6,526.2 L808.6,527.4 L806.5,528.6 L804.5,529.9 L802.4,531.2 L800.3,532.4 L798.3,533.7 L796.2,535.0 L794.2,536.3 L792.1,537.6 L790.1,538.9 L788.0,540.2 L785.9,541.5 L783.9,542.8 L781.8,544.2 L779.8,545.5 L777.7,546.9 L775.7,548.3 L773.6,549.6 L771.6,551.0 L769.5,552.4 L767.4,553.8 L765.4,555.2 L763.3,556.7 L761.3,558.1 L759.2,559.6 L757.2,561.0 L755.1,562.5 L753.1,564.0 L751.0,565.4 L748.9,566.9 L746.9,568.5 L744.8,570.0 L742.8,571.5 L740.7,573.1 L738.7,574.6 L736.6,576.2 L734.5,577.7 L732.5,579.3 L730.4,580.9 L728.4,582.5 L726.3,584.2 L724.3,585.8 L722.2,587.4 L720.2,589.1 L718.1,590.8 L716.0,592.5 L714.0,594.2 L711.9,595.9 L709.9,597.6 L707.8,599.3 L705.8,601.1 L703.7,602.8 L701.6,604.6 L699.6,606.4 L697.5,608.2 L695.5,610.0 L693.4,611.8 L691.4,613.7 L689.3,615.5 L687.3,617.4 L685.2,619.3 L683.1,621.2 L681.1,623.1 L679.0,625.0 L677.0,627.0 L674.9,628.9 L672.9,630.9 L670.8,632.9 L668.7,634.9 L666.7,636.9 L664.6,638.9 L662.6,641.0 L660.5,643.0 L658.5,645.1 L656.4,647.2 L654.4,649.3 L652.3,651.5 L650.2,653.6 L648.2,655.8 L646.1,658.0 L644.1,660.2 L642.0,662.4 L640.0,664.7 L637.9,666.9 L635.9,669.2 L633.8,671.6 L631.7,673.9 L629.7,676.3 L627.6,678.7 L625.6,681.1 L623.5,683.6 L621.5,686.1 L619.4,688.7 L617.3,691.2 L615.3,693.9 L613.2,696.5 L611.2,699.2 L609.1,701.9 L607.1,704.7 L605.0,707.5 L603.0,710.4 L600.9,713.3 L598.8,716.2 L596.8,719.2 L594.7,722.2 L592.7,725.3 L590.6,728.4 L588.6,731.5 L586.5,734.7 L584.4,737.8 L582.4,740.9 L580.3,744.0 L578.3,747.1 L576.2,750.1 L574.2,753.1 L572.1,756.0 L570.1,758.9 L568.0,761.7Z" fill="#FBB92C"/>
<path d="M374.3,91.0 L374.9,93.1 L375.5,95.2 L376.1,97.4 L376.8,99.5 L377.5,101.6 L378.3,103.6 L379.1,105.7 L379.9,107.8 L380.7,109.8 L381.6,111.9 L382.5,113.9 L383.4,116.0 L384.4,118.0 L385.3,120.1 L386.2,122.1 L387.2,124.1 L388.1,126.2 L389.0,128.2 L390.0,130.3 L390.9,132.3 L391.8,134.4 L392.6,136.4 L393.5,138.5 L394.3,140.5 L395.2,142.6 L396.0,144.7 L396.8,146.8 L397.6,148.8 L398.4,150.9 L399.2,153.0 L399.9,155.1 L400.7,157.2 L401.5,159.3 L402.2,161.4 L402.9,163.5 L403.7,165.6 L404.4,167.7 L405.2,169.8 L405.9,171.9 L406.6,174.0 L407.4,176.1 L408.1,178.1 L408.8,180.2 L409.6,182.3 L410.3,184.4 L411.1,186.5 L411.8,188.6 L412.6,190.7 L413.3,192.8 L414.1,194.9 L414.8,197.0 L415.6,199.1 L416.3,201.2 L417.1,203.3 L417.8,205.4 L418.6,207.5 L419.3,209.6 L420.1,211.7 L420.8,213.8 L421.6,215.9 L422.3,218.0 L423.1,220.1 L423.8,222.2 L424.5,224.3 L425.3,226.4 L426.0,228.5 L426.8,230.6 L427.5,232.7 L428.2,234.8 L428.9,236.9 L429.7,239.0 L430.4,241.1 L431.1,243.2 L431.8,245.3 L432.6,247.4 L433.3,249.5 L434.0,251.6 L434.7,253.7 L435.4,255.8 L436.1,257.9 L436.8,260.1 L437.5,262.2 L438.2,264.3 L438.9,266.4 L439.7,268.5 L440.4,270.6 L441.1,272.7 L441.8,274.8 L442.5,276.9 L443.2,279.1 L443.9,281.2 L444.5,283.3 L445.2,285.4 L445.9,287.5 L446.6,289.6 L447.3,291.7 L448.0,293.9 L448.7,296.0 L449.4,298.1 L450.1,300.2 L450.8,302.3 L451.5,304.4 L452.1,306.6 L452.8,308.7 L453.5,310.8 L454.2,312.9 L454.9,315.0 L455.6,317.2 L456.2,319.3 L456.9,321.4 L457.6,323.5 L458.3,325.6 L458.9,327.8 L459.6,329.9 L460.3,332.0 L461.0,334.1 L461.6,336.2 L462.3,338.4 L463.0,340.5 L463.6,342.6 L464.3,344.7 L465.0,346.9 L465.6,349.0 L466.3,351.1 L466.9,353.2 L467.6,355.4 L468.3,357.5 L468.9,359.6 L469.6,361.7 L470.2,363.9 L470.9,366.0 L471.5,368.1 L472.2,370.2 L472.9,372.4 L473.5,374.5 L474.2,376.6 L474.8,378.8 L475.5,380.9 L476.1,383.0 L476.7,385.2 L477.4,387.3 L478.0,389.4 L478.7,391.5 L479.3,393.7 L480.0,395.8 L480.6,397.9 L481.2,400.1 L481.9,402.2 L482.5,404.3 L483.2,406.5 L483.8,408.6 L484.4,410.7 L485.1,412.9 L485.7,415.0 L486.3,417.1 L487.0,419.3 L487.6,421.4 L488.2,423.5 L488.9,425.7 L489.5,427.8 L490.1,429.9 L490.7,432.1 L491.4,434.2 L492.0,436.3 L492.6,438.5 L493.2,440.6 L493.9,442.8 L494.5,444.9 L495.1,447.0 L495.7,449.2 L496.3,451.3 L497.0,453.4 L497.6,455.6 L498.2,457.7 L498.8,459.9 L499.4,462.0 L500.0,464.1 L500.6,466.3 L501.3,468.4 L501.9,470.6 L502.5,472.7 L503.1,474.8 L503.7,477.0 L504.3,479.1 L504.9,481.3 L505.5,483.4 L506.1,485.5 L506.7,487.7 L507.3,489.8 L507.9,492.0 L508.5,494.1 L509.1,496.3 L509.7,498.4 L510.4,500.5 L511.0,502.7 L511.6,504.8 L512.2,507.0 L512.7,509.1 L513.3,511.3 L513.9,513.4 L514.5,515.5 L515.1,517.7 L515.7,519.8 L516.3,522.0 L516.9,524.1 L517.5,526.3 L518.1,528.4 L518.7,530.6 L519.3,532.7 L519.9,534.9 L520.5,537.0 L521.0,539.2 L521.6,541.3 L522.2,543.4 L522.8,545.6 L523.4,547.7 L524.0,549.9 L524.6,552.0 L525.1,554.2 L525.7,556.3 L526.3,558.5 L526.9,560.6 L527.4,562.8 L528.0,564.9 L528.6,567.1 L529.2,569.2 L529.7,571.4 L530.3,573.5 L530.9,575.7 L531.4,577.8 L532.0,580.0 L532.6,582.1 L533.1,584.3 L533.7,586.4 L534.3,588.6 L534.8,590.8 L535.4,592.9 L536.0,595.1 L536.5,597.2 L537.1,599.4 L537.7,601.5 L538.2,603.7 L538.8,605.8 L539.4,608.0 L539.9,610.1 L540.5,612.3 L541.1,614.4 L541.6,616.6 L542.2,618.7 L542.8,620.9 L543.3,623.0 L543.9,625.2 L544.5,627.3 L545.1,629.5 L545.6,631.6 L546.2,633.8 L546.8,635.9 L547.4,638.1 L547.9,640.2 L548.5,642.4 L549.1,644.5 L549.7,646.7 L550.2,648.8 L550.8,651.0 L551.4,653.2 L552.0,655.3 L552.5,657.5 L553.1,659.6 L553.7,661.8 L554.2,663.9 L554.8,666.1 L555.3,668.2 L555.9,670.4 L556.4,672.5 L557.0,674.7 L557.5,676.9 L558.0,679.0 L558.5,681.2 L559.1,683.3 L559.6,685.5 L560.1,687.7 L560.6,689.8 L561.1,692.0 L561.6,694.2 L562.1,696.4 L562.5,698.5 L563.0,700.7 L563.4,702.9 L563.9,705.1 L564.3,707.3 L564.8,709.4 L565.2,711.6 L565.6,713.8 L566.0,716.0" fill="none" stroke="#9CBF60" stroke-width="4.5" stroke-linejoin="round"/>
<g fill="#9CBF60"><ellipse cx="375.0" cy="92.1" rx="11.2" ry="4.4" transform="rotate(68.2 375.0 92.1)"/><ellipse cx="382.6" cy="110.9" rx="11.2" ry="4.4" transform="rotate(68.4 382.6 110.9)"/><ellipse cx="390.1" cy="130.2" rx="11.2" ry="4.4" transform="rotate(68.9 390.1 130.2)"/><ellipse cx="397.6" cy="149.9" rx="11.2" ry="4.4" transform="rotate(69.3 397.6 149.9)"/><ellipse cx="405.1" cy="170.1" rx="11.2" ry="4.4" transform="rotate(69.8 405.1 170.1)"/><ellipse cx="412.6" cy="190.7" rx="11.2" ry="4.4" transform="rotate(70.2 412.6 190.7)"/><ellipse cx="420.2" cy="211.8" rx="11.2" ry="4.4" transform="rotate(70.6 420.2 211.8)"/><ellipse cx="427.7" cy="233.4" rx="11.2" ry="4.4" transform="rotate(70.9 427.7 233.4)"/><ellipse cx="435.2" cy="255.4" rx="11.2" ry="4.4" transform="rotate(71.3 435.2 255.4)"/><ellipse cx="442.8" cy="277.8" rx="11.2" ry="4.4" transform="rotate(71.7 442.8 277.8)"/><ellipse cx="450.3" cy="300.8" rx="11.2" ry="4.4" transform="rotate(72.0 450.3 300.8)"/><ellipse cx="457.8" cy="324.2" rx="11.2" ry="4.4" transform="rotate(72.3 457.8 324.2)"/><ellipse cx="465.3" cy="348.0" rx="11.2" ry="4.4" transform="rotate(72.7 465.3 348.0)"/><ellipse cx="472.9" cy="372.4" rx="11.2" ry="4.4" transform="rotate(73.0 472.9 372.4)"/><ellipse cx="480.4" cy="397.2" rx="11.2" ry="4.4" transform="rotate(73.3 480.4 397.2)"/><ellipse cx="487.9" cy="422.4" rx="11.2" ry="4.4" transform="rotate(73.6 487.9 422.4)"/><ellipse cx="495.4" cy="448.1" rx="11.2" ry="4.4" transform="rotate(73.8 495.4 448.1)"/><ellipse cx="503.0" cy="474.3" rx="11.2" ry="4.4" transform="rotate(74.1 503.0 474.3)"/><ellipse cx="510.5" cy="501.0" rx="11.2" ry="4.4" transform="rotate(74.4 510.5 501.0)"/><ellipse cx="518.0" cy="528.1" rx="11.2" ry="4.4" transform="rotate(74.6 518.0 528.1)"/><ellipse cx="525.5" cy="555.7" rx="11.2" ry="4.4" transform="rotate(74.9 525.5 555.7)"/><ellipse cx="533.0" cy="583.8" rx="11.2" ry="4.4" transform="rotate(75.1 533.0 583.8)"/><ellipse cx="540.6" cy="612.3" rx="11.2" ry="4.4" transform="rotate(75.3 540.6 612.3)"/><ellipse cx="548.1" cy="641.3" rx="11.2" ry="4.4" transform="rotate(75.6 548.1 641.3)"/><ellipse cx="555.6" cy="670.8" rx="11.2" ry="4.4" transform="rotate(75.7 555.6 670.8)"/></g>
<g stroke="#FFFFFF" stroke-width="1.1"><line x1="376.4" y1="103.5" x2="381.2" y2="99.5"/><line x1="383.9" y1="122.6" x2="388.7" y2="118.6"/><line x1="391.4" y1="142.0" x2="396.2" y2="138.0"/><line x1="399.0" y1="162.0" x2="403.8" y2="158.0"/><line x1="406.5" y1="182.4" x2="411.3" y2="178.4"/><line x1="414.0" y1="203.3" x2="418.8" y2="199.3"/><line x1="421.5" y1="224.6" x2="426.3" y2="220.6"/><line x1="429.1" y1="246.4" x2="433.9" y2="242.4"/><line x1="436.6" y1="268.6" x2="441.4" y2="264.6"/><line x1="444.1" y1="291.3" x2="448.9" y2="287.3"/><line x1="451.6" y1="314.5" x2="456.4" y2="310.5"/><line x1="459.2" y1="338.1" x2="464.0" y2="334.1"/><line x1="466.7" y1="362.2" x2="471.5" y2="358.2"/><line x1="474.2" y1="386.8" x2="479.0" y2="382.8"/><line x1="481.7" y1="411.8" x2="486.5" y2="407.8"/><line x1="489.3" y1="437.3" x2="494.1" y2="433.3"/><line x1="496.8" y1="463.2" x2="501.6" y2="459.2"/><line x1="504.3" y1="489.7" x2="509.1" y2="485.7"/><line x1="511.8" y1="516.5" x2="516.6" y2="512.5"/><line x1="519.4" y1="543.9" x2="524.2" y2="539.9"/><line x1="526.9" y1="571.7" x2="531.7" y2="567.7"/><line x1="534.4" y1="600.0" x2="539.2" y2="596.0"/><line x1="541.9" y1="628.8" x2="546.7" y2="624.8"/><line x1="549.5" y1="658.0" x2="554.3" y2="654.0"/></g>
<path d="M566.0,716.0 L566.3,717.2 L566.6,718.5 L566.9,719.8 L567.2,721.0 L567.4,722.3 L567.7,723.5 L567.9,724.8 L568.1,726.0 L568.4,727.3 L568.6,728.6 L568.8,729.8 L569.0,731.1 L569.1,732.4 L569.3,733.6 L569.5,734.9 L569.6,736.2 L569.7,737.4 L569.9,738.7 L570.0,740.0 L570.1,741.3 L570.2,742.5 L570.3,743.8 L570.4,745.1 L570.5,746.4 L570.6,747.7 L570.6,748.9 L570.7,750.2 L570.8,751.5 L570.8,752.8 L570.8,754.1 L570.9,755.3 L570.9,756.6 L570.9,757.9 L571.0,759.2 L571.0,760.5 L571.0,761.7 L571.0,763.0 L571.0,764.3 L571.0,765.6 L571.0,766.9 L571.0,768.1 L571.0,769.4 L571.0,770.7 L570.9,772.0 L570.9,773.3 L570.9,774.5 L570.9,775.8 L570.9,777.1 L570.9,778.4 L570.9,779.7 L570.9,780.9 L570.9,782.2 L570.9,783.5 L570.9,784.8 L570.9,786.1 L571.0,787.3 L571.0,788.6 L571.0,789.9 L571.1,791.2 L571.2,792.5 L571.2,793.7 L571.3,795.0 L571.4,796.3 L571.5,797.6 L571.6,798.9 L571.7,800.1" fill="none" stroke="#9CBF60" stroke-width="6"/>
<path d="M576.8,836.9 L577.0,838.2 L577.0,839.4 L577.1,840.7 L577.2,842.0 L577.3,843.3 L577.4,844.6 L577.4,845.8 L577.5,847.1 L577.6,848.4 L577.6,849.7 L577.7,851.0 L577.7,852.2 L577.8,853.5 L577.8,854.8 L577.9,856.1 L577.9,857.4 L577.9,858.6 L578.0,859.9 L578.0,861.2 L578.0,862.5 L578.1,863.8 L578.1,865.0 L578.1,866.3 L578.1,867.6 L578.1,868.9 L578.2,870.2 L578.2,871.4 L578.2,872.7 L578.2,874.0 L578.2,875.3 L578.2,876.6 L578.2,877.8 L578.3,879.1 L578.3,880.4 L578.3,881.7 L578.3,883.0 L578.3,884.2 L578.3,885.5 L578.3,886.8 L578.3,888.1 L578.3,889.4 L578.4,890.6 L578.4,891.9 L578.4,893.2 L578.4,894.5 L578.4,895.8 L578.4,897.0 L578.5,898.3 L578.5,899.6 L578.5,900.9 L578.5,902.2 L578.5,903.4 L578.6,904.7 L578.6,906.0" fill="none" stroke="#9CBF60" stroke-width="5.5"/>
<path d="M572.1,803.9 L572.3,805.2 L572.5,806.5 L572.7,807.8 L572.8,809.0 L573.0,810.3 L573.3,811.5 L573.5,812.8 L573.7,814.1 L573.9,815.3 L574.1,816.6 L574.3,817.9 L574.6,819.1 L574.8,820.4 L575.0,821.6 L575.2,822.9 L575.4,824.2 L575.6,825.4 L575.8,826.7 L575.9,828.0 L576.1,829.2 L576.2,830.5 L576.4,831.8 L576.5,833.1" fill="none" stroke="#FFFFFF" stroke-width="5"/>
<path d="M568.0,705.9 L570.1,703.3 L572.1,699.7 L574.2,697.2 L576.2,694.6 L578.3,692.1 L580.3,689.5 L582.4,687.0 L584.4,684.5 L586.5,682.0 L588.6,679.5 L590.6,677.1 L592.7,674.6 L594.7,672.2 L596.8,669.8 L598.8,667.4 L600.9,665.0 L603.0,662.7 L605.0,660.4 L607.1,658.1 L609.1,655.9 L611.2,653.6 L613.2,651.4 L615.3,649.2 L617.3,647.0 L619.4,644.8 L621.5,642.7 L623.5,640.6 L625.6,638.5 L627.6,636.4 L629.7,634.3 L631.7,632.3 L633.8,630.3 L635.9,628.3 L637.9,626.3 L640.0,624.3 L642.0,622.3 L644.1,620.4 L646.1,618.5 L648.2,616.6 L650.2,614.7 L652.3,612.8 L654.4,611.0 L656.4,609.1 L658.5,607.3 L660.5,605.5 L662.6,603.7 L664.6,601.9 L666.7,600.1 L668.7,598.4 L670.8,596.6 L672.9,594.9 L674.9,593.2 L677.0,591.5 L679.0,589.8 L681.1,588.1 L683.1,586.4 L685.2,584.7 L687.3,583.1 L689.3,581.5 L691.4,579.8 L693.4,578.2 L695.5,576.6 L697.5,575.0 L699.6,573.5 L701.6,571.9 L703.7,570.3 L705.8,568.8 L707.8,567.3 L709.9,565.8 L711.9,564.3 L714.0,562.8 L716.0,561.3 L718.1,559.8 L720.2,558.3 L722.2,556.9 L724.3,555.4 L726.3,554.0 L728.4,552.6 L730.4,551.1 L732.5,549.7 L734.5,548.3 L736.6,546.9 L738.7,545.5 L740.7,544.1 L742.8,542.7 L744.8,541.4 L746.9,540.0 L748.9,538.7 L751.0,537.3 L753.1,536.0 L755.1,534.6 L757.2,533.3 L759.2,532.0 L761.3,530.7 L763.3,529.4 L765.4,528.1 L767.4,526.8 L769.5,525.5 L771.6,524.2 L773.6,522.9 L775.7,521.7 L777.7,520.4 L779.8,519.2 L781.8,517.9 L783.9,516.7 L785.9,515.5 L788.0,514.2 L790.1,513.0 L792.1,511.8 L794.2,510.6 L796.2,509.4 L798.3,508.2 L800.3,507.0 L802.4,505.8 L804.5,504.7 L806.5,503.5 L808.6,502.3 L810.6,501.1 L812.7,500.0 L814.7,498.8 L816.8,497.7 L818.8,496.5 L820.9,495.4 L823.0,494.3 L825.0,493.2 L827.1,492.0 L829.1,490.9 L831.2,489.8 L833.2,488.7 L835.3,487.6 L837.4,486.5 L839.4,485.4 L841.5,484.4 L843.5,483.3 L845.6,482.2 L847.6,481.2 L849.7,480.1 L851.7,479.0 L853.8,478.0 L855.9,476.9 L857.9,475.9 L860.0,474.9 L862.0,473.8 L864.1,472.8 L866.1,471.8 L868.2,470.8 L870.2,469.8 L872.3,468.7 L874.4,467.7 L876.4,466.7 L878.5,465.7 L880.5,464.7 L882.6,463.8 L884.6,462.8 L886.7,461.8 L888.8,460.8 L890.8,459.8 L892.9,458.9 L894.9,457.9 L897.0,457.0 L899.0,456.0 L901.1,455.0 L903.1,454.1 L905.2,453.1 L907.3,452.2 L909.3,451.3 L911.4,450.3 L913.4,449.4 L915.5,448.5 L917.5,447.5 L919.6,446.6 L921.7,445.7 L923.7,444.8 L925.8,443.9 L927.8,442.9 L929.9,442.0 L931.9,441.1 L934.0,440.2 L936.0,439.3 L938.1,438.4 L940.2,437.5 L942.2,436.6 L944.3,435.7 L946.3,434.9 L948.4,434.0 L950.4,433.1 L952.5,432.2 L954.5,431.3 L956.6,430.4 L958.7,429.6 L960.7,428.7 L962.8,427.8 L964.8,427.0 L966.9,426.1 L968.9,425.2 L971.0,424.4 L973.1,423.5 L975.1,422.6 L977.2,421.8 L979.2,420.9 L981.3,420.1 L983.3,419.2 L985.4,418.4 L987.4,417.5 L989.5,416.7 L991.6,415.8 L993.6,415.0 L995.7,414.1 L997.7,413.3 L999.8,412.5 L1001.8,411.6 L1003.9,410.8 L1006.0,410.0 L1008.0,409.1 L1010.1,408.3 L1012.1,407.5 L1014.2,406.6 L1016.2,405.8 L1018.3,405.0 L1020.3,404.2 L1022.4,403.4 L1024.5,402.5 L1026.5,401.7 L1028.6,400.9 L1030.6,400.1 L1032.7,399.3 L1034.7,398.5 L1036.8,397.7 L1038.8,396.9 L1040.9,396.1 L1043.0,395.3 L1045.0,394.5 L1047.1,393.7 L1049.1,392.9 L1051.2,392.1 L1053.2,391.3 L1055.3,390.5 L1057.4,389.8 L1059.4,389.0 L1061.5,388.2 L1063.5,387.4 L1065.6,386.6 L1067.6,385.9 L1069.7,385.1 L1071.7,384.3 L1073.8,383.5 L1075.9,382.8 L1077.9,382.0 L1080.0,381.2 L1082.0,380.5 L1084.1,379.7 L1086.1,378.9 L1088.2,378.2 L1090.3,377.4 L1092.3,376.7 L1094.4,375.9 L1096.4,375.2 L1098.5,374.4 L1100.5,373.7 L1102.6,372.9 L1104.6,372.2 L1106.7,371.4 L1108.8,370.7 L1110.8,370.0 L1112.9,369.2 L1114.9,368.5 L1117.0,367.8 L1119.0,367.0 L1121.1,366.3 L1123.2,365.6 L1125.2,364.9 L1127.3,364.1 L1129.3,363.4 L1131.4,362.7 L1133.4,362.0 L1135.5,361.3 L1137.5,360.6 L1139.6,359.9 L1141.7,359.2 L1143.7,358.5 L1145.8,357.8 L1147.8,357.1 L1149.9,356.4 L1151.9,355.7 L1154.0,355.0 L1156.0,354.3 L1158.1,353.6 L1160.2,352.9 L1162.2,352.2 L1164.3,351.5 L1166.3,350.9 L1168.4,350.2 L1170.4,349.5 L1172.5,348.8 L1174.6,348.2 L1176.6,347.5 L1178.7,346.8 L1180.7,346.2 L1182.8,345.5 L1184.8,344.8 L1186.9,344.2 L1188.9,343.5 L1191.0,342.9 L1193.1,342.2 L1195.1,341.6 L1197.2,340.9 L1199.2,340.3 L1201.3,339.6 L1203.3,339.0 L1205.4,338.3 L1207.5,337.7 L1209.5,337.1 L1211.6,336.4 L1213.6,335.8 L1215.7,335.1 L1217.7,334.5 L1219.8,333.9 L1221.8,333.2 L1223.9,332.6 L1226.0,332.0 L1228.0,331.4 L1230.1,330.7 L1232.1,330.1 L1234.2,329.5 L1236.2,328.9 L1238.3,328.3 L1240.3,327.7 L1242.4,327.0 L1244.5,326.4 L1246.5,325.8 L1248.6,325.2 L1250.6,324.6 L1252.7,324.0 L1254.7,323.4 L1256.8,322.8 L1258.9,322.2 L1260.9,321.6 L1263.0,321.0 L1265.0,320.4 L1267.1,319.8 L1269.1,319.2 L1271.2,318.6 L1273.2,318.0 L1275.3,317.4 L1277.4,316.8 L1279.4,316.2 L1281.5,315.6 L1283.5,315.0 L1285.6,314.4 L1287.6,313.8 L1289.7,313.2 L1291.8,312.7 L1293.8,312.1 L1295.9,311.5 L1297.9,310.9 L1300.0,310.3 L1302.0,309.7 L1304.1,309.2 L1306.1,308.6 L1308.2,308.0 L1310.3,307.4 L1312.3,306.8 L1314.4,306.3 L1316.4,305.7 L1318.5,305.1 L1320.5,304.5 L1322.6,304.0 L1324.6,303.4 L1326.7,302.8 L1328.8,302.2 L1330.8,301.7 L1332.9,301.1 L1334.9,300.5 L1337.0,300.0 L1339.0,299.4 L1341.1,298.8 L1343.2,298.2 L1345.2,297.7 L1347.3,297.1 L1349.3,296.6 L1351.4,296.0 L1353.4,295.4 L1355.5,294.9 L1357.5,294.3 L1359.6,293.7 L1361.7,293.2 L1363.7,292.6 L1365.8,292.1 L1367.8,291.5 L1369.9,291.0 L1371.9,290.4 L1374.0,289.8 L1376.1,289.3 L1378.1,288.7 L1380.2,288.2 L1382.2,287.6 L1384.3,287.1 L1386.3,286.5 L1388.4,286.0 L1390.4,285.4 L1392.5,284.9 L1394.6,284.3 L1396.6,283.8 L1398.7,283.3 L1400.7,282.7 L1402.8,282.2 L1404.8,281.6 L1406.9,281.1 L1408.9,280.6 L1411.0,280.0 L1413.1,279.5 L1415.1,278.9 L1417.2,278.4 L1419.2,277.9 L1421.3,277.3 L1423.3,276.8 L1425.4,276.3 L1427.5,275.8 L1429.5,275.2 L1431.6,274.7 L1433.6,274.2 L1435.7,273.6 L1437.7,273.1 L1439.8,272.6 L1441.8,272.1 L1443.9,271.6 L1446.0,271.0 L1448.0,270.5 L1450.1,270.0 L1452.1,269.5 L1454.2,269.0 L1456.2,268.5 L1458.3,267.9 L1460.4,267.4 L1462.4,266.9 L1464.5,266.4 L1466.5,265.9 L1468.6,265.4 L1470.6,264.9 L1472.7,264.4 L1474.7,263.9 L1476.8,263.4 L1478.9,262.9 L1480.9,262.4 L1483.0,261.9 L1485.0,261.4 L1487.1,260.9 L1489.1,260.4 L1491.2,259.9 L1493.3,259.4 L1495.3,258.9 L1497.4,258.4 L1499.4,258.0 L1501.5,257.5 L1503.5,257.0 L1505.6,256.5 L1507.6,256.0 L1509.7,255.5 L1511.8,255.0 L1513.8,254.6 L1515.9,254.1 L1517.9,253.6 L1520.0,253.1 L1522.0,252.6 L1524.1,252.1 L1526.1,251.7 L1528.2,251.2 L1530.3,250.7 L1532.3,250.2 L1534.4,249.7 L1536.4,249.2 L1538.5,248.7 L1540.5,248.2 L1542.6,247.7 L1544.7,247.2 L1546.7,246.7 L1548.8,246.2 L1550.8,245.7 L1552.9,245.2 L1554.9,244.7 L1557.0,244.2 L1559.0,243.6 L1561.1,243.1 L1563.2,242.6 L1565.2,242.0 L1567.3,241.5 L1569.3,241.0 L1571.4,240.4 L1573.4,239.9 L1575.5,239.3 L1577.6,238.8 L1579.6,238.2 L1581.7,237.6 L1583.7,237.0 L1585.8,236.3 L1587.8,235.7 L1589.9,235.0 L1591.9,234.3 L1594.0,233.6 L1594.0,238.3 L1591.9,239.5 L1589.9,240.7 L1587.8,241.7 L1585.8,242.7 L1583.7,243.7 L1581.7,244.6 L1579.6,245.4 L1577.6,246.2 L1575.5,246.9 L1573.4,247.6 L1571.4,248.3 L1569.3,249.0 L1567.3,249.7 L1565.2,250.3 L1563.2,251.0 L1561.1,251.6 L1559.0,252.2 L1557.0,252.8 L1554.9,253.4 L1552.9,254.0 L1550.8,254.6 L1548.8,255.2 L1546.7,255.7 L1544.7,256.3 L1542.6,256.8 L1540.5,257.3 L1538.5,257.8 L1536.4,258.4 L1534.4,258.9 L1532.3,259.4 L1530.3,259.9 L1528.2,260.4 L1526.1,260.9 L1524.1,261.3 L1522.0,261.8 L1520.0,262.3 L1517.9,262.8 L1515.9,263.3 L1513.8,263.7 L1511.8,264.2 L1509.7,264.7 L1507.6,265.1 L1505.6,265.6 L1503.5,266.1 L1501.5,266.6 L1499.4,267.0 L1497.4,267.5 L1495.3,268.0 L1493.3,268.5 L1491.2,269.0 L1489.1,269.5 L1487.1,269.9 L1485.0,270.4 L1483.0,270.9 L1480.9,271.4 L1478.9,271.9 L1476.8,272.4 L1474.7,272.9 L1472.7,273.4 L1470.6,274.0 L1468.6,274.5 L1466.5,275.0 L1464.5,275.5 L1462.4,276.0 L1460.4,276.5 L1458.3,277.1 L1456.2,277.6 L1454.2,278.1 L1452.1,278.6 L1450.1,279.2 L1448.0,279.7 L1446.0,280.3 L1443.9,280.8 L1441.8,281.3 L1439.8,281.9 L1437.7,282.4 L1435.7,283.0 L1433.6,283.5 L1431.6,284.1 L1429.5,284.6 L1427.5,285.2 L1425.4,285.7 L1423.3,286.3 L1421.3,286.8 L1419.2,287.4 L1417.2,287.9 L1415.1,288.5 L1413.1,289.1 L1411.0,289.6 L1408.9,290.2 L1406.9,290.8 L1404.8,291.3 L1402.8,291.9 L1400.7,292.5 L1398.7,293.1 L1396.6,293.6 L1394.6,294.2 L1392.5,294.8 L1390.4,295.4 L1388.4,295.9 L1386.3,296.5 L1384.3,297.1 L1382.2,297.7 L1380.2,298.3 L1378.1,298.8 L1376.1,299.4 L1374.0,300.0 L1371.9,300.6 L1369.9,301.2 L1367.8,301.8 L1365.8,302.4 L1363.7,302.9 L1361.7,303.5 L1359.6,304.1 L1357.5,304.7 L1355.5,305.3 L1353.4,305.9 L1351.4,306.5 L1349.3,307.1 L1347.3,307.7 L1345.2,308.3 L1343.2,308.8 L1341.1,309.4 L1339.0,310.0 L1337.0,310.6 L1334.9,311.2 L1332.9,311.8 L1330.8,312.4 L1328.8,313.0 L1326.7,313.6 L1324.6,314.2 L1322.6,314.8 L1320.5,315.4 L1318.5,316.0 L1316.4,316.6 L1314.4,317.1 L1312.3,317.7 L1310.3,318.3 L1308.2,318.9 L1306.1,319.5 L1304.1,320.1 L1302.0,320.7 L1300.0,321.3 L1297.9,321.9 L1295.9,322.5 L1293.8,323.1 L1291.8,323.7 L1289.7,324.2 L1287.6,324.8 L1285.6,325.4 L1283.5,326.0 L1281.5,326.6 L1279.4,327.2 L1277.4,327.8 L1275.3,328.4 L1273.2,329.0 L1271.2,329.6 L1269.1,330.2 L1267.1,330.8 L1265.0,331.4 L1263.0,332.0 L1260.9,332.6 L1258.9,333.2 L1256.8,333.8 L1254.7,334.4 L1252.7,335.0 L1250.6,335.6 L1248.6,336.2 L1246.5,336.8 L1244.5,337.4 L1242.4,338.0 L1240.3,338.6 L1238.3,339.2 L1236.2,339.9 L1234.2,340.5 L1232.1,341.1 L1230.1,341.7 L1228.0,342.3 L1226.0,343.0 L1223.9,343.6 L1221.8,344.2 L1219.8,344.8 L1217.7,345.5 L1215.7,346.1 L1213.6,346.7 L1211.6,347.4 L1209.5,348.0 L1207.5,348.6 L1205.4,349.3 L1203.3,349.9 L1201.3,350.6 L1199.2,351.2 L1197.2,351.9 L1195.1,352.5 L1193.1,353.2 L1191.0,353.9 L1188.9,354.5 L1186.9,355.2 L1184.8,355.9 L1182.8,356.5 L1180.7,357.2 L1178.7,357.9 L1176.6,358.6 L1174.6,359.2 L1172.5,359.9 L1170.4,360.6 L1168.4,361.3 L1166.3,362.0 L1164.3,362.7 L1162.2,363.4 L1160.2,364.1 L1158.1,364.8 L1156.0,365.5 L1154.0,366.2 L1151.9,367.0 L1149.9,367.7 L1147.8,368.4 L1145.8,369.1 L1143.7,369.9 L1141.7,370.6 L1139.6,371.3 L1137.5,372.1 L1135.5,372.8 L1133.4,373.6 L1131.4,374.3 L1129.3,375.1 L1127.3,375.8 L1125.2,376.6 L1123.2,377.3 L1121.1,378.1 L1119.0,378.9 L1117.0,379.6 L1114.9,380.4 L1112.9,381.2 L1110.8,382.0 L1108.8,382.7 L1106.7,383.5 L1104.6,384.3 L1102.6,385.1 L1100.5,385.9 L1098.5,386.7 L1096.4,387.5 L1094.4,388.3 L1092.3,389.1 L1090.3,389.9 L1088.2,390.7 L1086.1,391.5 L1084.1,392.3 L1082.0,393.1 L1080.0,393.9 L1077.9,394.8 L1075.9,395.6 L1073.8,396.4 L1071.7,397.2 L1069.7,398.0 L1067.6,398.9 L1065.6,399.7 L1063.5,400.5 L1061.5,401.4 L1059.4,402.2 L1057.4,403.1 L1055.3,403.9 L1053.2,404.8 L1051.2,405.6 L1049.1,406.5 L1047.1,407.3 L1045.0,408.2 L1043.0,409.0 L1040.9,409.9 L1038.8,410.7 L1036.8,411.6 L1034.7,412.5 L1032.7,413.3 L1030.6,414.2 L1028.6,415.1 L1026.5,416.0 L1024.5,416.8 L1022.4,417.7 L1020.3,418.6 L1018.3,419.5 L1016.2,420.4 L1014.2,421.2 L1012.1,422.1 L1010.1,423.0 L1008.0,423.9 L1006.0,424.8 L1003.9,425.7 L1001.8,426.6 L999.8,427.5 L997.7,428.4 L995.7,429.2 L993.6,430.1 L991.6,431.0 L989.5,431.9 L987.4,432.8 L985.4,433.7 L983.3,434.7 L981.3,435.6 L979.2,436.5 L977.2,437.4 L975.1,438.3 L973.1,439.2 L971.0,440.1 L968.9,441.0 L966.9,441.9 L964.8,442.8 L962.8,443.8 L960.7,444.7 L958.7,445.6 L956.6,446.5 L954.5,447.4 L952.5,448.3 L950.4,449.3 L948.4,450.2 L946.3,451.1 L944.3,452.0 L942.2,453.0 L940.2,453.9 L938.1,454.8 L936.0,455.8 L934.0,456.7 L931.9,457.6 L929.9,458.6 L927.8,459.5 L925.8,460.5 L923.7,461.4 L921.7,462.4 L919.6,463.3 L917.5,464.3 L915.5,465.2 L913.4,466.2 L911.4,467.2 L909.3,468.1 L907.3,469.1 L905.2,470.1 L903.1,471.0 L901.1,472.0 L899.0,473.0 L897.0,474.0 L894.9,475.0 L892.9,476.0 L890.8,477.0 L888.8,478.0 L886.7,479.0 L884.6,480.0 L882.6,481.0 L880.5,482.0 L878.5,483.1 L876.4,484.1 L874.4,485.1 L872.3,486.2 L870.2,487.2 L868.2,488.2 L866.1,489.3 L864.1,490.4 L862.0,491.4 L860.0,492.5 L857.9,493.6 L855.9,494.6 L853.8,495.7 L851.7,496.8 L849.7,497.9 L847.6,499.0 L845.6,500.1 L843.5,501.2 L841.5,502.3 L839.4,503.5 L837.4,504.6 L835.3,505.7 L833.2,506.9 L831.2,508.0 L829.1,509.2 L827.1,510.3 L825.0,511.5 L823.0,512.7 L820.9,513.9 L818.8,515.0 L816.8,516.2 L814.7,517.4 L812.7,518.7 L810.6,519.9 L808.6,521.1 L806.5,522.3 L804.5,523.6 L802.4,524.8 L800.3,526.1 L798.3,527.3 L796.2,528.6 L794.2,529.9 L792.1,531.2 L790.1,532.5 L788.0,533.8 L785.9,535.1 L783.9,536.5 L781.8,537.8 L779.8,539.1 L777.7,540.5 L775.7,541.9 L773.6,543.2 L771.6,544.6 L769.5,546.0 L767.4,547.4 L765.4,548.8 L763.3,550.2 L761.3,551.7 L759.2,553.1 L757.2,554.5 L755.1,556.0 L753.1,557.5 L751.0,558.9 L748.9,560.4 L746.9,561.9 L744.8,563.4 L742.8,564.9 L740.7,566.5 L738.7,568.0 L736.6,569.6 L734.5,571.1 L732.5,572.7 L730.4,574.3 L728.4,575.9 L726.3,577.5 L724.3,579.1 L722.2,580.7 L720.2,582.3 L718.1,584.0 L716.0,585.7 L714.0,587.3 L711.9,589.0 L709.9,590.7 L707.8,592.4 L705.8,594.2 L703.7,595.9 L701.6,597.6 L699.6,599.4 L697.5,601.2 L695.5,602.9 L693.4,604.7 L691.4,606.5 L689.3,608.3 L687.3,610.2 L685.2,612.0 L683.1,613.9 L681.1,615.7 L679.0,617.6 L677.0,619.5 L674.9,621.4 L672.9,623.4 L670.8,625.3 L668.7,627.3 L666.7,629.3 L664.6,631.2 L662.6,633.2 L660.5,635.3 L658.5,637.3 L656.4,639.4 L654.4,641.4 L652.3,643.5 L650.2,645.6 L648.2,647.7 L646.1,649.9 L644.1,652.0 L642.0,654.2 L640.0,656.4 L637.9,658.6 L635.9,660.8 L633.8,663.1 L631.7,665.4 L629.7,667.7 L627.6,670.0 L625.6,672.4 L623.5,674.8 L621.5,677.2 L619.4,679.7 L617.3,682.2 L615.3,684.7 L613.2,687.3 L611.2,689.9 L609.1,692.5 L607.1,695.2 L605.0,697.9 L603.0,700.6 L600.9,703.4 L598.8,706.2 L596.8,709.1 L594.7,712.0 L592.7,714.9 L590.6,717.9 L588.6,720.9 L586.5,723.9 L584.4,726.9 L582.4,729.9 L580.3,732.8 L578.3,735.8 L576.2,738.7 L574.2,741.6 L572.1,744.5 L570.1,747.5 L568.0,750.2Z" fill="#9CBF60"/>
<g fill="#13B3AB"><ellipse cx="375.0" cy="92.1" rx="6.4" ry="2.2" transform="rotate(68.2 375.0 92.1)"/><ellipse cx="382.6" cy="110.9" rx="6.4" ry="2.2" transform="rotate(68.4 382.6 110.9)"/><ellipse cx="390.1" cy="130.2" rx="6.4" ry="2.2" transform="rotate(68.9 390.1 130.2)"/><ellipse cx="397.6" cy="149.9" rx="6.4" ry="2.2" transform="rotate(69.3 397.6 149.9)"/><ellipse cx="405.1" cy="170.1" rx="6.4" ry="2.2" transform="rotate(69.8 405.1 170.1)"/><ellipse cx="412.6" cy="190.7" rx="6.4" ry="2.2" transform="rotate(70.2 412.6 190.7)"/><ellipse cx="420.2" cy="211.8" rx="6.4" ry="2.2" transform="rotate(70.6 420.2 211.8)"/><ellipse cx="427.7" cy="233.4" rx="6.4" ry="2.2" transform="rotate(70.9 427.7 233.4)"/><ellipse cx="435.2" cy="255.4" rx="6.4" ry="2.2" transform="rotate(71.3 435.2 255.4)"/><ellipse cx="442.8" cy="277.8" rx="6.4" ry="2.2" transform="rotate(71.7 442.8 277.8)"/><ellipse cx="450.3" cy="300.8" rx="6.4" ry="2.2" transform="rotate(72.0 450.3 300.8)"/><ellipse cx="457.8" cy="324.2" rx="6.4" ry="2.2" transform="rotate(72.3 457.8 324.2)"/><ellipse cx="465.3" cy="348.0" rx="6.4" ry="2.2" transform="rotate(72.7 465.3 348.0)"/><ellipse cx="472.9" cy="372.4" rx="6.4" ry="2.2" transform="rotate(73.0 472.9 372.4)"/><ellipse cx="480.4" cy="397.2" rx="6.4" ry="2.2" transform="rotate(73.3 480.4 397.2)"/><ellipse cx="487.9" cy="422.4" rx="6.4" ry="2.2" transform="rotate(73.6 487.9 422.4)"/><ellipse cx="495.4" cy="448.1" rx="6.4" ry="2.2" transform="rotate(73.8 495.4 448.1)"/><ellipse cx="503.0" cy="474.3" rx="6.4" ry="2.2" transform="rotate(74.1 503.0 474.3)"/><ellipse cx="510.5" cy="501.0" rx="6.4" ry="2.2" transform="rotate(74.4 510.5 501.0)"/><ellipse cx="518.0" cy="528.1" rx="6.4" ry="2.2" transform="rotate(74.6 518.0 528.1)"/><ellipse cx="525.5" cy="555.7" rx="6.4" ry="2.2" transform="rotate(74.9 525.5 555.7)"/><ellipse cx="533.0" cy="583.8" rx="6.4" ry="2.2" transform="rotate(75.1 533.0 583.8)"/><ellipse cx="540.6" cy="612.3" rx="6.4" ry="2.2" transform="rotate(75.3 540.6 612.3)"/><ellipse cx="548.1" cy="641.3" rx="6.4" ry="2.2" transform="rotate(75.6 548.1 641.3)"/><ellipse cx="555.6" cy="670.8" rx="6.4" ry="2.2" transform="rotate(75.7 555.6 670.8)"/></g>
<path d="M566.0,716.0 L566.3,717.2 L566.6,718.5 L566.9,719.8 L567.2,721.0 L567.4,722.3 L567.7,723.5 L567.9,724.8 L568.1,726.0 L568.4,727.3 L568.6,728.6 L568.8,729.8 L569.0,731.1 L569.1,732.4 L569.3,733.6 L569.5,734.9 L569.6,736.2 L569.7,737.4 L569.9,738.7 L570.0,740.0 L570.1,741.3 L570.2,742.5 L570.3,743.8 L570.4,745.1 L570.5,746.4 L570.6,747.7 L570.6,748.9 L570.7,750.2 L570.8,751.5 L570.8,752.8 L570.8,754.1 L570.9,755.3 L570.9,756.6 L570.9,757.9 L571.0,759.2 L571.0,760.5 L571.0,761.7 L571.0,763.0 L571.0,764.3 L571.0,765.6 L571.0,766.9 L571.0,768.1 L571.0,769.4 L571.0,770.7 L570.9,772.0 L570.9,773.3 L570.9,774.5 L570.9,775.8 L570.9,777.1 L570.9,778.4 L570.9,779.7 L570.9,780.9 L570.9,782.2 L570.9,783.5 L570.9,784.8 L570.9,786.1 L571.0,787.3 L571.0,788.6 L571.0,789.9 L571.1,791.2" fill="none" stroke="#13B3AB" stroke-width="3.5"/>
<path d="M577.7,851.0 L577.7,852.2 L577.8,853.5 L577.8,854.8 L577.9,856.1 L577.9,857.4 L577.9,858.6 L578.0,859.9 L578.0,861.2 L578.0,862.5 L578.1,863.8 L578.1,865.0 L578.1,866.3 L578.1,867.6 L578.1,868.9 L578.2,870.2 L578.2,871.4 L578.2,872.7 L578.2,874.0 L578.2,875.3 L578.2,876.6 L578.2,877.8 L578.3,879.1 L578.3,880.4 L578.3,881.7 L578.3,883.0 L578.3,884.2 L578.3,885.5 L578.3,886.8 L578.3,888.1 L578.3,889.4 L578.4,890.6 L578.4,891.9" fill="none" stroke="#13B3AB" stroke-width="2.5"/>
<path d="M568.0,715.9 L570.1,713.4 L572.1,709.9 L574.2,707.3 L576.2,704.6 L578.3,702.0 L580.3,699.4 L582.4,696.7 L584.4,694.1 L586.5,691.5 L588.6,688.9 L590.6,686.3 L592.7,683.8 L594.7,681.2 L596.8,678.7 L598.8,676.2 L600.9,673.8 L603.0,671.3 L605.0,668.9 L607.1,666.5 L609.1,664.2 L611.2,661.8 L613.2,659.5 L615.3,657.3 L617.3,655.0 L619.4,652.8 L621.5,650.6 L623.5,648.4 L625.6,646.2 L627.6,644.1 L629.7,641.9 L631.7,639.8 L633.8,637.7 L635.9,635.7 L637.9,633.6 L640.0,631.6 L642.0,629.6 L644.1,627.6 L646.1,625.6 L648.2,623.6 L650.2,621.7 L652.3,619.7 L654.4,617.8 L656.4,615.9 L658.5,614.0 L660.5,612.1 L662.6,610.3 L664.6,608.4 L666.7,606.6 L668.7,604.8 L670.8,603.0 L672.9,601.2 L674.9,599.4 L677.0,597.6 L679.0,595.9 L681.1,594.1 L683.1,592.4 L685.2,590.7 L687.3,589.0 L689.3,587.3 L691.4,585.6 L693.4,584.0 L695.5,582.3 L697.5,580.7 L699.6,579.0 L701.6,577.4 L703.7,575.9 L705.8,574.3 L707.8,572.7 L709.9,571.2 L711.9,569.6 L714.0,568.1 L716.0,566.6 L718.1,565.1 L720.2,563.6 L722.2,562.1 L724.3,560.6 L726.3,559.1 L728.4,557.6 L730.4,556.2 L732.5,554.7 L734.5,553.3 L736.6,551.9 L738.7,550.4 L740.7,549.0 L742.8,547.6 L744.8,546.2 L746.9,544.8 L748.9,543.4 L751.0,542.1 L753.1,540.7 L755.1,539.3 L757.2,538.0 L759.2,536.6 L761.3,535.3 L763.3,534.0 L765.4,532.7 L767.4,531.3 L769.5,530.0 L771.6,528.7 L773.6,527.5 L775.7,526.2 L777.7,524.9 L779.8,523.6 L781.8,522.4 L783.9,521.1 L785.9,519.9 L788.0,518.6 L790.1,517.4 L792.1,516.2 L794.2,514.9 L796.2,513.7 L798.3,512.5 L800.3,511.3 L802.4,510.1 L804.5,508.9 L806.5,507.7 L808.6,506.5 L810.6,505.4 L812.7,504.2 L814.7,503.0 L816.8,501.9 L818.8,500.7 L820.9,499.6 L823.0,498.4 L825.0,497.3 L827.1,496.2 L829.1,495.0 L831.2,493.9 L833.2,492.8 L835.3,491.7 L837.4,490.6 L839.4,489.5 L841.5,488.4 L843.5,487.3 L845.6,486.3 L847.6,485.2 L849.7,484.1 L851.7,483.1 L853.8,482.0 L855.9,480.9 L857.9,479.9 L860.0,478.9 L862.0,477.8 L864.1,476.8 L866.1,475.8 L868.2,474.7 L870.2,473.7 L872.3,472.7 L874.4,471.7 L876.4,470.7 L878.5,469.7 L880.5,468.7 L882.6,467.7 L884.6,466.7 L886.7,465.7 L888.8,464.7 L890.8,463.7 L892.9,462.8 L894.9,461.8 L897.0,460.8 L899.0,459.9 L901.1,458.9 L903.1,457.9 L905.2,457.0 L907.3,456.0 L909.3,455.1 L911.4,454.2 L913.4,453.2 L915.5,452.3 L917.5,451.3 L919.6,450.4 L921.7,449.5 L923.7,448.6 L925.8,447.6 L927.8,446.7 L929.9,445.8 L931.9,444.9 L934.0,444.0 L936.0,443.1 L938.1,442.2 L940.2,441.3 L942.2,440.4 L944.3,439.5 L946.3,438.6 L948.4,437.7 L950.4,436.8 L952.5,435.9 L954.5,435.0 L956.6,434.1 L958.7,433.2 L960.7,432.4 L962.8,431.5 L964.8,430.6 L966.9,429.7 L968.9,428.8 L971.0,428.0 L973.1,427.1 L975.1,426.2 L977.2,425.4 L979.2,424.5 L981.3,423.6 L983.3,422.8 L985.4,421.9 L987.4,421.0 L989.5,420.2 L991.6,419.3 L993.6,418.5 L995.7,417.6 L997.7,416.8 L999.8,415.9 L1001.8,415.1 L1003.9,414.2 L1006.0,413.4 L1008.0,412.5 L1010.1,411.7 L1012.1,410.8 L1014.2,410.0 L1016.2,409.2 L1018.3,408.3 L1020.3,407.5 L1022.4,406.7 L1024.5,405.8 L1026.5,405.0 L1028.6,404.2 L1030.6,403.4 L1032.7,402.5 L1034.7,401.7 L1036.8,400.9 L1038.8,400.1 L1040.9,399.3 L1043.0,398.5 L1045.0,397.7 L1047.1,396.8 L1049.1,396.0 L1051.2,395.2 L1053.2,394.4 L1055.3,393.6 L1057.4,392.8 L1059.4,392.0 L1061.5,391.2 L1063.5,390.4 L1065.6,389.7 L1067.6,388.9 L1069.7,388.1 L1071.7,387.3 L1073.8,386.5 L1075.9,385.7 L1077.9,384.9 L1080.0,384.2 L1082.0,383.4 L1084.1,382.6 L1086.1,381.8 L1088.2,381.1 L1090.3,380.3 L1092.3,379.5 L1094.4,378.8 L1096.4,378.0 L1098.5,377.2 L1100.5,376.5 L1102.6,375.7 L1104.6,375.0 L1106.7,374.2 L1108.8,373.5 L1110.8,372.7 L1112.9,372.0 L1114.9,371.2 L1117.0,370.5 L1119.0,369.8 L1121.1,369.0 L1123.2,368.3 L1125.2,367.5 L1127.3,366.8 L1129.3,366.1 L1131.4,365.4 L1133.4,364.6 L1135.5,363.9 L1137.5,363.2 L1139.6,362.5 L1141.7,361.8 L1143.7,361.1 L1145.8,360.4 L1147.8,359.7 L1149.9,358.9 L1151.9,358.2 L1154.0,357.5 L1156.0,356.8 L1158.1,356.2 L1160.2,355.5 L1162.2,354.8 L1164.3,354.1 L1166.3,353.4 L1168.4,352.7 L1170.4,352.0 L1172.5,351.4 L1174.6,350.7 L1176.6,350.0 L1178.7,349.3 L1180.7,348.7 L1182.8,348.0 L1184.8,347.3 L1186.9,346.7 L1188.9,346.0 L1191.0,345.4 L1193.1,344.7 L1195.1,344.1 L1197.2,343.4 L1199.2,342.7 L1201.3,342.1 L1203.3,341.5 L1205.4,340.8 L1207.5,340.2 L1209.5,339.5 L1211.6,338.9 L1213.6,338.3 L1215.7,337.6 L1217.7,337.0 L1219.8,336.4 L1221.8,335.7 L1223.9,335.1 L1226.0,334.5 L1228.0,333.8 L1230.1,333.2 L1232.1,332.6 L1234.2,332.0 L1236.2,331.4 L1238.3,330.7 L1240.3,330.1 L1242.4,329.5 L1244.5,328.9 L1246.5,328.3 L1248.6,327.7 L1250.6,327.1 L1252.7,326.5 L1254.7,325.8 L1256.8,325.2 L1258.9,324.6 L1260.9,324.0 L1263.0,323.4 L1265.0,322.8 L1267.1,322.2 L1269.1,321.6 L1271.2,321.0 L1273.2,320.4 L1275.3,319.8 L1277.4,319.2 L1279.4,318.7 L1281.5,318.1 L1283.5,317.5 L1285.6,316.9 L1287.6,316.3 L1289.7,315.7 L1291.8,315.1 L1293.8,314.5 L1295.9,313.9 L1297.9,313.3 L1300.0,312.8 L1302.0,312.2 L1304.1,311.6 L1306.1,311.0 L1308.2,310.4 L1310.3,309.8 L1312.3,309.3 L1314.4,308.7 L1316.4,308.1 L1318.5,307.5 L1320.5,306.9 L1322.6,306.4 L1324.6,305.8 L1326.7,305.2 L1328.8,304.6 L1330.8,304.0 L1332.9,303.5 L1334.9,302.9 L1337.0,302.3 L1339.0,301.7 L1341.1,301.2 L1343.2,300.6 L1345.2,300.0 L1347.3,299.4 L1349.3,298.9 L1351.4,298.3 L1353.4,297.7 L1355.5,297.2 L1357.5,296.6 L1359.6,296.0 L1361.7,295.5 L1363.7,294.9 L1365.8,294.3 L1367.8,293.8 L1369.9,293.2 L1371.9,292.6 L1374.0,292.1 L1376.1,291.5 L1378.1,291.0 L1380.2,290.4 L1382.2,289.9 L1384.3,289.3 L1386.3,288.7 L1388.4,288.2 L1390.4,287.6 L1392.5,287.1 L1394.6,286.5 L1396.6,286.0 L1398.7,285.4 L1400.7,284.9 L1402.8,284.3 L1404.8,283.8 L1406.9,283.2 L1408.9,282.7 L1411.0,282.1 L1413.1,281.6 L1415.1,281.1 L1417.2,280.5 L1419.2,280.0 L1421.3,279.4 L1423.3,278.9 L1425.4,278.4 L1427.5,277.8 L1429.5,277.3 L1431.6,276.8 L1433.6,276.2 L1435.7,275.7 L1437.7,275.2 L1439.8,274.6 L1441.8,274.1 L1443.9,273.6 L1446.0,273.1 L1448.0,272.6 L1450.1,272.0 L1452.1,271.5 L1454.2,271.0 L1456.2,270.5 L1458.3,270.0 L1460.4,269.4 L1462.4,268.9 L1464.5,268.4 L1466.5,267.9 L1468.6,267.4 L1470.6,266.9 L1472.7,266.4 L1474.7,265.9 L1476.8,265.4 L1478.9,264.9 L1480.9,264.4 L1483.0,263.9 L1485.0,263.4 L1487.1,262.9 L1489.1,262.4 L1491.2,261.9 L1493.3,261.4 L1495.3,260.9 L1497.4,260.4 L1499.4,260.0 L1501.5,259.5 L1503.5,259.0 L1505.6,258.5 L1507.6,258.0 L1509.7,257.5 L1511.8,257.1 L1513.8,256.6 L1515.9,256.1 L1517.9,255.6 L1520.0,255.1 L1522.0,254.7 L1524.1,254.2 L1526.1,253.7 L1528.2,253.2 L1530.3,252.7 L1532.3,252.2 L1534.4,251.7 L1536.4,251.2 L1538.5,250.7 L1540.5,250.2 L1542.6,249.7 L1544.7,249.2 L1546.7,248.7 L1548.8,248.2 L1550.8,247.7 L1552.9,247.1 L1554.9,246.6 L1557.0,246.1 L1559.0,245.5 L1561.1,245.0 L1563.2,244.4 L1565.2,243.9 L1567.3,243.3 L1569.3,242.7 L1571.4,242.2 L1573.4,241.6 L1575.5,241.0 L1577.6,240.4 L1579.6,239.8 L1581.7,239.1 L1583.7,238.4 L1585.8,237.8 L1587.8,237.0 L1589.9,236.3 L1591.9,235.5 L1594.0,234.6 L1594.0,237.2 L1591.9,238.4 L1589.9,239.4 L1587.8,240.4 L1585.8,241.3 L1583.7,242.2 L1581.7,243.0 L1579.6,243.8 L1577.6,244.5 L1575.5,245.2 L1573.4,245.9 L1571.4,246.6 L1569.3,247.2 L1567.3,247.9 L1565.2,248.5 L1563.2,249.1 L1561.1,249.7 L1559.0,250.3 L1557.0,250.9 L1554.9,251.5 L1552.9,252.1 L1550.8,252.6 L1548.8,253.2 L1546.7,253.7 L1544.7,254.3 L1542.6,254.8 L1540.5,255.3 L1538.5,255.8 L1536.4,256.3 L1534.4,256.9 L1532.3,257.4 L1530.3,257.9 L1528.2,258.3 L1526.1,258.8 L1524.1,259.3 L1522.0,259.8 L1520.0,260.3 L1517.9,260.8 L1515.9,261.2 L1513.8,261.7 L1511.8,262.2 L1509.7,262.7 L1507.6,263.1 L1505.6,263.6 L1503.5,264.1 L1501.5,264.6 L1499.4,265.0 L1497.4,265.5 L1495.3,266.0 L1493.3,266.5 L1491.2,267.0 L1489.1,267.5 L1487.1,267.9 L1485.0,268.4 L1483.0,268.9 L1480.9,269.4 L1478.9,269.9 L1476.8,270.4 L1474.7,270.9 L1472.7,271.4 L1470.6,272.0 L1468.6,272.5 L1466.5,273.0 L1464.5,273.5 L1462.4,274.0 L1460.4,274.5 L1458.3,275.1 L1456.2,275.6 L1454.2,276.1 L1452.1,276.6 L1450.1,277.2 L1448.0,277.7 L1446.0,278.2 L1443.9,278.8 L1441.8,279.3 L1439.8,279.8 L1437.7,280.4 L1435.7,280.9 L1433.6,281.4 L1431.6,282.0 L1429.5,282.5 L1427.5,283.1 L1425.4,283.6 L1423.3,284.2 L1421.3,284.7 L1419.2,285.3 L1417.2,285.8 L1415.1,286.4 L1413.1,287.0 L1411.0,287.5 L1408.9,288.1 L1406.9,288.6 L1404.8,289.2 L1402.8,289.8 L1400.7,290.3 L1398.7,290.9 L1396.6,291.5 L1394.6,292.0 L1392.5,292.6 L1390.4,293.2 L1388.4,293.7 L1386.3,294.3 L1384.3,294.9 L1382.2,295.5 L1380.2,296.0 L1378.1,296.6 L1376.1,297.2 L1374.0,297.8 L1371.9,298.3 L1369.9,298.9 L1367.8,299.5 L1365.8,300.1 L1363.7,300.7 L1361.7,301.2 L1359.6,301.8 L1357.5,302.4 L1355.5,303.0 L1353.4,303.6 L1351.4,304.2 L1349.3,304.7 L1347.3,305.3 L1345.2,305.9 L1343.2,306.5 L1341.1,307.1 L1339.0,307.7 L1337.0,308.3 L1334.9,308.9 L1332.9,309.4 L1330.8,310.0 L1328.8,310.6 L1326.7,311.2 L1324.6,311.8 L1322.6,312.4 L1320.5,313.0 L1318.5,313.6 L1316.4,314.1 L1314.4,314.7 L1312.3,315.3 L1310.3,315.9 L1308.2,316.5 L1306.1,317.1 L1304.1,317.7 L1302.0,318.3 L1300.0,318.8 L1297.9,319.4 L1295.9,320.0 L1293.8,320.6 L1291.8,321.2 L1289.7,321.8 L1287.6,322.4 L1285.6,323.0 L1283.5,323.6 L1281.5,324.2 L1279.4,324.7 L1277.4,325.3 L1275.3,325.9 L1273.2,326.5 L1271.2,327.1 L1269.1,327.7 L1267.1,328.3 L1265.0,328.9 L1263.0,329.5 L1260.9,330.1 L1258.9,330.7 L1256.8,331.3 L1254.7,331.9 L1252.7,332.5 L1250.6,333.1 L1248.6,333.7 L1246.5,334.3 L1244.5,334.9 L1242.4,335.6 L1240.3,336.2 L1238.3,336.8 L1236.2,337.4 L1234.2,338.0 L1232.1,338.6 L1230.1,339.2 L1228.0,339.9 L1226.0,340.5 L1223.9,341.1 L1221.8,341.7 L1219.8,342.4 L1217.7,343.0 L1215.7,343.6 L1213.6,344.3 L1211.6,344.9 L1209.5,345.5 L1207.5,346.2 L1205.4,346.8 L1203.3,347.5 L1201.3,348.1 L1199.2,348.7 L1197.2,349.4 L1195.1,350.1 L1193.1,350.7 L1191.0,351.4 L1188.9,352.0 L1186.9,352.7 L1184.8,353.4 L1182.8,354.0 L1180.7,354.7 L1178.7,355.4 L1176.6,356.0 L1174.6,356.7 L1172.5,357.4 L1170.4,358.1 L1168.4,358.8 L1166.3,359.5 L1164.3,360.2 L1162.2,360.9 L1160.2,361.6 L1158.1,362.3 L1156.0,363.0 L1154.0,363.7 L1151.9,364.4 L1149.9,365.1 L1147.8,365.8 L1145.8,366.5 L1143.7,367.3 L1141.7,368.0 L1139.6,368.7 L1137.5,369.4 L1135.5,370.2 L1133.4,370.9 L1131.4,371.7 L1129.3,372.4 L1127.3,373.1 L1125.2,373.9 L1123.2,374.6 L1121.1,375.4 L1119.0,376.2 L1117.0,376.9 L1114.9,377.7 L1112.9,378.4 L1110.8,379.2 L1108.8,380.0 L1106.7,380.7 L1104.6,381.5 L1102.6,382.3 L1100.5,383.1 L1098.5,383.9 L1096.4,384.6 L1094.4,385.4 L1092.3,386.2 L1090.3,387.0 L1088.2,387.8 L1086.1,388.6 L1084.1,389.4 L1082.0,390.2 L1080.0,391.0 L1077.9,391.8 L1075.9,392.6 L1073.8,393.4 L1071.7,394.2 L1069.7,395.1 L1067.6,395.9 L1065.6,396.7 L1063.5,397.5 L1061.5,398.3 L1059.4,399.2 L1057.4,400.0 L1055.3,400.8 L1053.2,401.7 L1051.2,402.5 L1049.1,403.3 L1047.1,404.2 L1045.0,405.0 L1043.0,405.9 L1040.9,406.7 L1038.8,407.5 L1036.8,408.4 L1034.7,409.3 L1032.7,410.1 L1030.6,411.0 L1028.6,411.8 L1026.5,412.7 L1024.5,413.5 L1022.4,414.4 L1020.3,415.3 L1018.3,416.1 L1016.2,417.0 L1014.2,417.9 L1012.1,418.7 L1010.1,419.6 L1008.0,420.5 L1006.0,421.4 L1003.9,422.2 L1001.8,423.1 L999.8,424.0 L997.7,424.9 L995.7,425.8 L993.6,426.7 L991.6,427.5 L989.5,428.4 L987.4,429.3 L985.4,430.2 L983.3,431.1 L981.3,432.0 L979.2,432.9 L977.2,433.8 L975.1,434.7 L973.1,435.6 L971.0,436.5 L968.9,437.4 L966.9,438.3 L964.8,439.2 L962.8,440.1 L960.7,441.0 L958.7,441.9 L956.6,442.8 L954.5,443.7 L952.5,444.7 L950.4,445.6 L948.4,446.5 L946.3,447.4 L944.3,448.3 L942.2,449.2 L940.2,450.2 L938.1,451.1 L936.0,452.0 L934.0,452.9 L931.9,453.9 L929.9,454.8 L927.8,455.7 L925.8,456.7 L923.7,457.6 L921.7,458.6 L919.6,459.5 L917.5,460.5 L915.5,461.4 L913.4,462.4 L911.4,463.3 L909.3,464.3 L907.3,465.2 L905.2,466.2 L903.1,467.2 L901.1,468.2 L899.0,469.1 L897.0,470.1 L894.9,471.1 L892.9,472.1 L890.8,473.1 L888.8,474.1 L886.7,475.1 L884.6,476.1 L882.6,477.1 L880.5,478.1 L878.5,479.1 L876.4,480.2 L874.4,481.2 L872.3,482.2 L870.2,483.2 L868.2,484.3 L866.1,485.3 L864.1,486.4 L862.0,487.4 L860.0,488.5 L857.9,489.6 L855.9,490.6 L853.8,491.7 L851.7,492.8 L849.7,493.9 L847.6,495.0 L845.6,496.1 L843.5,497.2 L841.5,498.3 L839.4,499.4 L837.4,500.5 L835.3,501.6 L833.2,502.8 L831.2,503.9 L829.1,505.1 L827.1,506.2 L825.0,507.4 L823.0,508.5 L820.9,509.7 L818.8,510.9 L816.8,512.1 L814.7,513.3 L812.7,514.4 L810.6,515.7 L808.6,516.9 L806.5,518.1 L804.5,519.3 L802.4,520.5 L800.3,521.8 L798.3,523.0 L796.2,524.3 L794.2,525.6 L792.1,526.9 L790.1,528.1 L788.0,529.4 L785.9,530.7 L783.9,532.0 L781.8,533.4 L779.8,534.7 L777.7,536.0 L775.7,537.4 L773.6,538.7 L771.6,540.1 L769.5,541.5 L767.4,542.8 L765.4,544.2 L763.3,545.6 L761.3,547.0 L759.2,548.4 L757.2,549.9 L755.1,551.3 L753.1,552.7 L751.0,554.2 L748.9,555.6 L746.9,557.1 L744.8,558.6 L742.8,560.1 L740.7,561.6 L738.7,563.1 L736.6,564.6 L734.5,566.1 L732.5,567.7 L730.4,569.2 L728.4,570.8 L726.3,572.4 L724.3,573.9 L722.2,575.5 L720.2,577.1 L718.1,578.7 L716.0,580.4 L714.0,582.0 L711.9,583.7 L709.9,585.3 L707.8,587.0 L705.8,588.7 L703.7,590.4 L701.6,592.1 L699.6,593.8 L697.5,595.5 L695.5,597.2 L693.4,599.0 L691.4,600.7 L689.3,602.5 L687.3,604.3 L685.2,606.1 L683.1,607.9 L681.1,609.7 L679.0,611.5 L677.0,613.4 L674.9,615.2 L672.9,617.1 L670.8,619.0 L668.7,620.9 L666.7,622.8 L664.6,624.7 L662.6,626.7 L660.5,628.6 L658.5,630.6 L656.4,632.6 L654.4,634.6 L652.3,636.6 L650.2,638.6 L648.2,640.7 L646.1,642.8 L644.1,644.9 L642.0,647.0 L640.0,649.1 L637.9,651.3 L635.9,653.4 L633.8,655.6 L631.7,657.9 L629.7,660.1 L627.6,662.4 L625.6,664.7 L623.5,667.0 L621.5,669.4 L619.4,671.8 L617.3,674.2 L615.3,676.6 L613.2,679.1 L611.2,681.6 L609.1,684.2 L607.1,686.7 L605.0,689.3 L603.0,692.0 L600.9,694.7 L598.8,697.4 L596.8,700.2 L594.7,702.9 L592.7,705.8 L590.6,708.6 L588.6,711.5 L586.5,714.4 L584.4,717.2 L582.4,720.1 L580.3,723.0 L578.3,725.9 L576.2,728.7 L574.2,731.5 L572.1,734.3 L570.1,737.5 L568.0,740.1Z" fill="#13B3AB"/>
<path d="M568.0,723.0 L570.1,720.4 L572.1,717.0 L574.2,714.3 L576.2,711.7 L578.3,709.0 L580.3,706.3 L582.4,703.6 L584.4,700.9 L586.5,698.2 L588.6,695.5 L590.6,692.8 L592.7,690.2 L594.7,687.6 L596.8,685.0 L598.8,682.4 L600.9,679.9 L603.0,677.4 L605.0,674.9 L607.1,672.4 L609.1,670.0 L611.2,667.6 L613.2,665.3 L615.3,662.9 L617.3,660.6 L619.4,658.3 L621.5,656.0 L623.5,653.8 L625.6,651.6 L627.6,649.4 L629.7,647.2 L631.7,645.1 L633.8,643.0 L635.9,640.8 L637.9,638.8 L640.0,636.7 L642.0,634.6 L644.1,632.6 L646.1,630.5 L648.2,628.5 L650.2,626.5 L652.3,624.5 L654.4,622.6 L656.4,620.6 L658.5,618.7 L660.5,616.7 L662.6,614.8 L664.6,612.9 L666.7,611.1 L668.7,609.2 L670.8,607.3 L672.9,605.5 L674.9,603.7 L677.0,601.9 L679.0,600.1 L681.1,598.3 L683.1,596.5 L685.2,594.8 L687.3,593.0 L689.3,591.3 L691.4,589.6 L693.4,587.9 L695.5,586.2 L697.5,584.5 L699.6,582.8 L701.6,581.2 L703.7,579.6 L705.8,578.0 L707.8,576.4 L709.9,574.8 L711.9,573.3 L714.0,571.7 L716.0,570.1 L718.1,568.6 L720.2,567.1 L722.2,565.6 L724.3,564.1 L726.3,562.6 L728.4,561.1 L730.4,559.6 L732.5,558.1 L734.5,556.7 L736.6,555.2 L738.7,553.8 L740.7,552.3 L742.8,550.9 L744.8,549.5 L746.9,548.1 L748.9,546.7 L751.0,545.3 L753.1,543.9 L755.1,542.5 L757.2,541.1 L759.2,539.8 L761.3,538.4 L763.3,537.1 L765.4,535.7 L767.4,534.4 L769.5,533.1 L771.6,531.8 L773.6,530.5 L775.7,529.2 L777.7,527.9 L779.8,526.6 L781.8,525.3 L783.9,524.1 L785.9,522.8 L788.0,521.5 L790.1,520.3 L792.1,519.1 L794.2,517.8 L796.2,516.6 L798.3,515.4 L800.3,514.2 L802.4,513.0 L804.5,511.8 L806.5,510.6 L808.6,509.4 L810.6,508.2 L812.7,507.0 L814.7,505.8 L816.8,504.7 L818.8,503.5 L820.9,502.4 L823.0,501.2 L825.0,500.1 L827.1,499.0 L829.1,497.8 L831.2,496.7 L833.2,495.6 L835.3,494.5 L837.4,493.4 L839.4,492.3 L841.5,491.2 L843.5,490.1 L845.6,489.0 L847.6,487.9 L849.7,486.9 L851.7,485.8 L853.8,484.7 L855.9,483.7 L857.9,482.6 L860.0,481.6 L862.0,480.6 L864.1,479.5 L866.1,478.5 L868.2,477.5 L870.2,476.4 L872.3,475.4 L874.4,474.4 L876.4,473.4 L878.5,472.4 L880.5,471.4 L882.6,470.4 L884.6,469.4 L886.7,468.4 L888.8,467.4 L890.8,466.5 L892.9,465.5 L894.9,464.5 L897.0,463.5 L899.0,462.6 L901.1,461.6 L903.1,460.6 L905.2,459.7 L907.3,458.7 L909.3,457.8 L911.4,456.9 L913.4,455.9 L915.5,455.0 L917.5,454.0 L919.6,453.1 L921.7,452.2 L923.7,451.3 L925.8,450.3 L927.8,449.4 L929.9,448.5 L931.9,447.6 L934.0,446.7 L936.0,445.8 L938.1,444.8 L940.2,443.9 L942.2,443.0 L944.3,442.1 L946.3,441.2 L948.4,440.3 L950.4,439.4 L952.5,438.5 L954.5,437.7 L956.6,436.8 L958.7,435.9 L960.7,435.0 L962.8,434.1 L964.8,433.2 L966.9,432.3 L968.9,431.5 L971.0,430.6 L973.1,429.7 L975.1,428.8 L977.2,428.0 L979.2,427.1 L981.3,426.2 L983.3,425.3 L985.4,424.5 L987.4,423.6 L989.5,422.7 L991.6,421.9 L993.6,421.0 L995.7,420.2 L997.7,419.3 L999.8,418.4 L1001.8,417.6 L1003.9,416.7 L1006.0,415.9 L1008.0,415.0 L1010.1,414.2 L1012.1,413.3 L1014.2,412.5 L1016.2,411.7 L1018.3,410.8 L1020.3,410.0 L1022.4,409.1 L1024.5,408.3 L1026.5,407.5 L1028.6,406.6 L1030.6,405.8 L1032.7,405.0 L1034.7,404.1 L1036.8,403.3 L1038.8,402.5 L1040.9,401.7 L1043.0,400.9 L1045.0,400.0 L1047.1,399.2 L1049.1,398.4 L1051.2,397.6 L1053.2,396.8 L1055.3,396.0 L1057.4,395.2 L1059.4,394.4 L1061.5,393.6 L1063.5,392.8 L1065.6,392.0 L1067.6,391.2 L1069.7,390.4 L1071.7,389.6 L1073.8,388.8 L1075.9,388.0 L1077.9,387.2 L1080.0,386.4 L1082.0,385.7 L1084.1,384.9 L1086.1,384.1 L1088.2,383.3 L1090.3,382.6 L1092.3,381.8 L1094.4,381.0 L1096.4,380.2 L1098.5,379.5 L1100.5,378.7 L1102.6,378.0 L1104.6,377.2 L1106.7,376.4 L1108.8,375.7 L1110.8,374.9 L1112.9,374.2 L1114.9,373.5 L1117.0,372.7 L1119.0,372.0 L1121.1,371.2 L1123.2,370.5 L1125.2,369.8 L1127.3,369.0 L1129.3,368.3 L1131.4,367.6 L1133.4,366.8 L1135.5,366.1 L1137.5,365.4 L1139.6,364.7 L1141.7,364.0 L1143.7,363.3 L1145.8,362.5 L1147.8,361.8 L1149.9,361.1 L1151.9,360.4 L1154.0,359.7 L1156.0,359.0 L1158.1,358.3 L1160.2,357.6 L1162.2,357.0 L1164.3,356.3 L1166.3,355.6 L1168.4,354.9 L1170.4,354.2 L1172.5,353.6 L1174.6,352.9 L1176.6,352.2 L1178.7,351.5 L1180.7,350.9 L1182.8,350.2 L1184.8,349.5 L1186.9,348.9 L1188.9,348.2 L1191.0,347.6 L1193.1,346.9 L1195.1,346.3 L1197.2,345.6 L1199.2,345.0 L1201.3,344.3 L1203.3,343.7 L1205.4,343.0 L1207.5,342.4 L1209.5,341.8 L1211.6,341.1 L1213.6,340.5 L1215.7,339.9 L1217.7,339.2 L1219.8,338.6 L1221.8,338.0 L1223.9,337.4 L1226.0,336.7 L1228.0,336.1 L1230.1,335.5 L1232.1,334.9 L1234.2,334.3 L1236.2,333.7 L1238.3,333.0 L1240.3,332.4 L1242.4,331.8 L1244.5,331.2 L1246.5,330.6 L1248.6,330.0 L1250.6,329.4 L1252.7,328.8 L1254.7,328.2 L1256.8,327.6 L1258.9,327.0 L1260.9,326.4 L1263.0,325.8 L1265.0,325.2 L1267.1,324.6 L1269.1,324.0 L1271.2,323.4 L1273.2,322.8 L1275.3,322.2 L1277.4,321.7 L1279.4,321.1 L1281.5,320.5 L1283.5,319.9 L1285.6,319.3 L1287.6,318.7 L1289.7,318.1 L1291.8,317.5 L1293.8,317.0 L1295.9,316.4 L1297.9,315.8 L1300.0,315.2 L1302.0,314.6 L1304.1,314.0 L1306.1,313.5 L1308.2,312.9 L1310.3,312.3 L1312.3,311.7 L1314.4,311.1 L1316.4,310.6 L1318.5,310.0 L1320.5,309.4 L1322.6,308.8 L1324.6,308.2 L1326.7,307.7 L1328.8,307.1 L1330.8,306.5 L1332.9,305.9 L1334.9,305.3 L1337.0,304.8 L1339.0,304.2 L1341.1,303.6 L1343.2,303.0 L1345.2,302.5 L1347.3,301.9 L1349.3,301.3 L1351.4,300.8 L1353.4,300.2 L1355.5,299.6 L1357.5,299.0 L1359.6,298.5 L1361.7,297.9 L1363.7,297.3 L1365.8,296.8 L1367.8,296.2 L1369.9,295.6 L1371.9,295.1 L1374.0,294.5 L1376.1,293.9 L1378.1,293.4 L1380.2,292.8 L1382.2,292.2 L1384.3,291.7 L1386.3,291.1 L1388.4,290.6 L1390.4,290.0 L1392.5,289.5 L1394.6,288.9 L1396.6,288.3 L1398.7,287.8 L1400.7,287.2 L1402.8,286.7 L1404.8,286.1 L1406.9,285.6 L1408.9,285.0 L1411.0,284.5 L1413.1,283.9 L1415.1,283.4 L1417.2,282.9 L1419.2,282.3 L1421.3,281.8 L1423.3,281.2 L1425.4,280.7 L1427.5,280.2 L1429.5,279.6 L1431.6,279.1 L1433.6,278.6 L1435.7,278.0 L1437.7,277.5 L1439.8,277.0 L1441.8,276.4 L1443.9,275.9 L1446.0,275.4 L1448.0,274.9 L1450.1,274.3 L1452.1,273.8 L1454.2,273.3 L1456.2,272.8 L1458.3,272.3 L1460.4,271.7 L1462.4,271.2 L1464.5,270.7 L1466.5,270.2 L1468.6,269.7 L1470.6,269.2 L1472.7,268.7 L1474.7,268.2 L1476.8,267.7 L1478.9,267.2 L1480.9,266.7 L1483.0,266.2 L1485.0,265.7 L1487.1,265.2 L1489.1,264.7 L1491.2,264.3 L1493.3,263.8 L1495.3,263.3 L1495.3,263.6 L1493.3,264.1 L1491.2,264.6 L1489.1,265.1 L1487.1,265.6 L1485.0,266.1 L1483.0,266.6 L1480.9,267.1 L1478.9,267.6 L1476.8,268.1 L1474.7,268.6 L1472.7,269.1 L1470.6,269.6 L1468.6,270.2 L1466.5,270.7 L1464.5,271.2 L1462.4,271.7 L1460.4,272.2 L1458.3,272.7 L1456.2,273.3 L1454.2,273.8 L1452.1,274.3 L1450.1,274.9 L1448.0,275.4 L1446.0,275.9 L1443.9,276.4 L1441.8,277.0 L1439.8,277.5 L1437.7,278.1 L1435.7,278.6 L1433.6,279.1 L1431.6,279.7 L1429.5,280.2 L1427.5,280.8 L1425.4,281.3 L1423.3,281.9 L1421.3,282.4 L1419.2,283.0 L1417.2,283.5 L1415.1,284.1 L1413.1,284.6 L1411.0,285.2 L1408.9,285.7 L1406.9,286.3 L1404.8,286.8 L1402.8,287.4 L1400.7,288.0 L1398.7,288.5 L1396.6,289.1 L1394.6,289.7 L1392.5,290.2 L1390.4,290.8 L1388.4,291.4 L1386.3,291.9 L1384.3,292.5 L1382.2,293.1 L1380.2,293.6 L1378.1,294.2 L1376.1,294.8 L1374.0,295.4 L1371.9,295.9 L1369.9,296.5 L1367.8,297.1 L1365.8,297.7 L1363.7,298.2 L1361.7,298.8 L1359.6,299.4 L1357.5,300.0 L1355.5,300.6 L1353.4,301.1 L1351.4,301.7 L1349.3,302.3 L1347.3,302.9 L1345.2,303.5 L1343.2,304.1 L1341.1,304.6 L1339.0,305.2 L1337.0,305.8 L1334.9,306.4 L1332.9,307.0 L1330.8,307.6 L1328.8,308.2 L1326.7,308.7 L1324.6,309.3 L1322.6,309.9 L1320.5,310.5 L1318.5,311.1 L1316.4,311.7 L1314.4,312.3 L1312.3,312.9 L1310.3,313.5 L1308.2,314.0 L1306.1,314.6 L1304.1,315.2 L1302.0,315.8 L1300.0,316.4 L1297.9,317.0 L1295.9,317.6 L1293.8,318.2 L1291.8,318.8 L1289.7,319.4 L1287.6,320.0 L1285.6,320.6 L1283.5,321.1 L1281.5,321.7 L1279.4,322.3 L1277.4,322.9 L1275.3,323.5 L1273.2,324.1 L1271.2,324.7 L1269.1,325.3 L1267.1,325.9 L1265.0,326.5 L1263.0,327.1 L1260.9,327.7 L1258.9,328.3 L1256.8,329.0 L1254.7,329.6 L1252.7,330.2 L1250.6,330.8 L1248.6,331.4 L1246.5,332.0 L1244.5,332.6 L1242.4,333.2 L1240.3,333.8 L1238.3,334.5 L1236.2,335.1 L1234.2,335.7 L1232.1,336.3 L1230.1,337.0 L1228.0,337.6 L1226.0,338.2 L1223.9,338.8 L1221.8,339.5 L1219.8,340.1 L1217.7,340.7 L1215.7,341.4 L1213.6,342.0 L1211.6,342.6 L1209.5,343.3 L1207.5,343.9 L1205.4,344.6 L1203.3,345.2 L1201.3,345.9 L1199.2,346.5 L1197.2,347.2 L1195.1,347.8 L1193.1,348.5 L1191.0,349.2 L1188.9,349.8 L1186.9,350.5 L1184.8,351.2 L1182.8,351.8 L1180.7,352.5 L1178.7,353.2 L1176.6,353.9 L1174.6,354.5 L1172.5,355.2 L1170.4,355.9 L1168.4,356.6 L1166.3,357.3 L1164.3,358.0 L1162.2,358.7 L1160.2,359.4 L1158.1,360.1 L1156.0,360.8 L1154.0,361.5 L1151.9,362.2 L1149.9,362.9 L1147.8,363.6 L1145.8,364.3 L1143.7,365.1 L1141.7,365.8 L1139.6,366.5 L1137.5,367.3 L1135.5,368.0 L1133.4,368.7 L1131.4,369.5 L1129.3,370.2 L1127.3,370.9 L1125.2,371.7 L1123.2,372.4 L1121.1,373.2 L1119.0,373.9 L1117.0,374.7 L1114.9,375.5 L1112.9,376.2 L1110.8,377.0 L1108.8,377.7 L1106.7,378.5 L1104.6,379.3 L1102.6,380.1 L1100.5,380.8 L1098.5,381.6 L1096.4,382.4 L1094.4,383.2 L1092.3,384.0 L1090.3,384.7 L1088.2,385.5 L1086.1,386.3 L1084.1,387.1 L1082.0,387.9 L1080.0,388.7 L1077.9,389.5 L1075.9,390.3 L1073.8,391.1 L1071.7,391.9 L1069.7,392.7 L1067.6,393.6 L1065.6,394.4 L1063.5,395.2 L1061.5,396.0 L1059.4,396.8 L1057.4,397.6 L1055.3,398.5 L1053.2,399.3 L1051.2,400.1 L1049.1,401.0 L1047.1,401.8 L1045.0,402.6 L1043.0,403.5 L1040.9,404.3 L1038.8,405.1 L1036.8,406.0 L1034.7,406.8 L1032.7,407.7 L1030.6,408.5 L1028.6,409.4 L1026.5,410.2 L1024.5,411.1 L1022.4,411.9 L1020.3,412.8 L1018.3,413.7 L1016.2,414.5 L1014.2,415.4 L1012.1,416.2 L1010.1,417.1 L1008.0,418.0 L1006.0,418.8 L1003.9,419.7 L1001.8,420.6 L999.8,421.5 L997.7,422.3 L995.7,423.2 L993.6,424.1 L991.6,425.0 L989.5,425.9 L987.4,426.7 L985.4,427.6 L983.3,428.5 L981.3,429.4 L979.2,430.3 L977.2,431.2 L975.1,432.1 L973.1,433.0 L971.0,433.9 L968.9,434.8 L966.9,435.7 L964.8,436.6 L962.8,437.5 L960.7,438.4 L958.7,439.3 L956.6,440.2 L954.5,441.1 L952.5,442.0 L950.4,442.9 L948.4,443.8 L946.3,444.7 L944.3,445.6 L942.2,446.6 L940.2,447.5 L938.1,448.4 L936.0,449.3 L934.0,450.3 L931.9,451.2 L929.9,452.1 L927.8,453.1 L925.8,454.0 L923.7,454.9 L921.7,455.9 L919.6,456.8 L917.5,457.8 L915.5,458.7 L913.4,459.7 L911.4,460.6 L909.3,461.6 L907.3,462.5 L905.2,463.5 L903.1,464.5 L901.1,465.5 L899.0,466.4 L897.0,467.4 L894.9,468.4 L892.9,469.4 L890.8,470.4 L888.8,471.4 L886.7,472.4 L884.6,473.4 L882.6,474.4 L880.5,475.4 L878.5,476.4 L876.4,477.4 L874.4,478.5 L872.3,479.5 L870.2,480.5 L868.2,481.6 L866.1,482.6 L864.1,483.6 L862.0,484.7 L860.0,485.8 L857.9,486.8 L855.9,487.9 L853.8,489.0 L851.7,490.0 L849.7,491.1 L847.6,492.2 L845.6,493.3 L843.5,494.4 L841.5,495.5 L839.4,496.6 L837.4,497.7 L835.3,498.9 L833.2,500.0 L831.2,501.1 L829.1,502.3 L827.1,503.4 L825.0,504.6 L823.0,505.7 L820.9,506.9 L818.8,508.1 L816.8,509.2 L814.7,510.4 L812.7,511.6 L810.6,512.8 L808.6,514.0 L806.5,515.2 L804.5,516.5 L802.4,517.7 L800.3,518.9 L798.3,520.2 L796.2,521.4 L794.2,522.7 L792.1,524.0 L790.1,525.2 L788.0,526.5 L785.9,527.8 L783.9,529.1 L781.8,530.4 L779.8,531.7 L777.7,533.0 L775.7,534.4 L773.6,535.7 L771.6,537.0 L769.5,538.4 L767.4,539.8 L765.4,541.1 L763.3,542.5 L761.3,543.9 L759.2,545.3 L757.2,546.7 L755.1,548.1 L753.1,549.5 L751.0,551.0 L748.9,552.4 L746.9,553.9 L744.8,555.3 L742.8,556.8 L740.7,558.3 L738.7,559.8 L736.6,561.3 L734.5,562.8 L732.5,564.3 L730.4,565.8 L728.4,567.4 L726.3,568.9 L724.3,570.5 L722.2,572.0 L720.2,573.6 L718.1,575.2 L716.0,576.8 L714.0,578.4 L711.9,580.0 L709.9,581.7 L707.8,583.3 L705.8,585.0 L703.7,586.6 L701.6,588.3 L699.6,590.0 L697.5,591.7 L695.5,593.4 L693.4,595.1 L691.4,596.8 L689.3,598.5 L687.3,600.2 L685.2,602.0 L683.1,603.8 L681.1,605.5 L679.0,607.3 L677.0,609.1 L674.9,610.9 L672.9,612.8 L670.8,614.6 L668.7,616.5 L666.7,618.3 L664.6,620.2 L662.6,622.1 L660.5,624.0 L658.5,625.9 L656.4,627.9 L654.4,629.8 L652.3,631.8 L650.2,633.8 L648.2,635.8 L646.1,637.8 L644.1,639.9 L642.0,641.9 L640.0,644.0 L637.9,646.1 L635.9,648.3 L633.8,650.4 L631.7,652.6 L629.7,654.8 L627.6,657.0 L625.6,659.3 L623.5,661.6 L621.5,663.9 L619.4,666.2 L617.3,668.6 L615.3,671.0 L613.2,673.4 L611.2,675.9 L609.1,678.3 L607.1,680.8 L605.0,683.4 L603.0,686.0 L600.9,688.6 L598.8,691.2 L596.8,693.9 L594.7,696.6 L592.7,699.4 L590.6,702.1 L588.6,704.9 L586.5,707.7 L584.4,710.5 L582.4,713.3 L580.3,716.1 L578.3,718.9 L576.2,721.7 L574.2,724.5 L572.1,727.2 L570.1,730.4 L568.0,733.1Z" fill="#0D93CF"/>
<path d="M566.0,716.0 L566.3,717.2 L566.6,718.5 L566.9,719.8 L567.2,721.0 L567.4,722.3 L567.7,723.5 L567.9,724.8 L568.1,726.0 L568.4,727.3 L568.6,728.6 L568.8,729.8 L569.0,731.1 L569.1,732.4 L569.3,733.6 L569.5,734.9 L569.6,736.2 L569.7,737.4 L569.9,738.7 L570.0,740.0 L570.1,741.3 L570.2,742.5 L570.3,743.8 L570.4,745.1 L570.5,746.4 L570.6,747.7 L570.6,748.9 L570.7,750.2 L570.8,751.5 L570.8,752.8 L570.8,754.1 L570.9,755.3 L570.9,756.6 L570.9,757.9 L571.0,759.2 L571.0,760.5 L571.0,761.7 L571.0,763.0 L571.0,764.3 L571.0,765.6 L571.0,766.9 L571.0,768.1 L571.0,769.4 L571.0,770.7 L570.9,772.0 L570.9,773.3 L570.9,774.5 L570.9,775.8 L570.9,777.1 L570.9,778.4 L570.9,779.7" fill="none" stroke="#0D93CF" stroke-width="2"/>
</g>
<path d="M1194.8,903.5 L1196.3,901.6 L1197.8,899.6 L1199.3,897.7 L1200.8,895.7 L1202.2,893.7 L1203.6,891.7 L1205.0,889.7 L1206.5,887.7 L1207.8,885.7 L1209.2,883.7 L1210.6,881.6 L1212.0,879.6 L1213.3,877.6 L1214.7,875.5 L1216.1,873.5 L1217.4,871.5 L1218.8,869.4 L1220.2,867.4 L1221.5,865.4 L1222.9,863.3 L1224.2,861.3 L1225.6,859.2 L1226.9,857.1 L1228.1,855.0 L1229.4,852.9 L1230.7,850.9 L1232.0,848.8 L1233.4,846.7 L1234.8,844.7 L1236.1,842.7 L1237.6,840.7 L1238.9,838.7 L1240.3,836.6 L1241.7,834.6 L1243.0,832.5 L1244.3,830.4 L1245.6,828.3 L1246.9,826.3 L1248.2,824.2 L1249.6,822.2 L1251.0,820.1 L1252.4,818.1 L1253.8,816.1 L1255.1,814.1 L1256.5,812.0 L1257.8,810.0 L1259.1,807.9 L1260.4,805.8 L1261.6,803.7 L1262.9,801.6 L1264.2,799.5 L1265.5,797.4 L1266.8,795.3 L1268.1,793.3 L1269.4,791.2 L1270.8,789.1 L1272.1,787.1 L1273.4,785.0 L1274.8,783.0 L1276.1,780.9 L1277.4,778.9 L1278.8,776.8 L1280.1,774.7 L1281.4,772.7 L1282.8,770.6 L1284.1,768.6 L1285.5,766.6 L1286.9,764.5 L1288.2,762.5 L1289.6,760.4 L1290.9,758.4 L1292.3,756.3 L1293.6,754.3 L1295.0,752.2 L1296.3,750.1 L1297.6,748.1 L1298.8,746.0 L1300.1,743.9 L1301.3,741.7 L1302.5,739.6 L1303.7,737.5 L1304.9,735.3 L1306.1,733.2 L1307.3,731.0 L1308.5,728.9 L1309.8,726.8 L1311.0,724.7 L1312.3,722.6 L1313.7,720.6 L1315.0,718.5 L1316.4,716.5 L1317.8,714.4 L1319.2,712.4 L1320.5,710.4 L1321.9,708.3 L1323.2,706.3 L1324.5,704.2 L1325.8,702.1 L1327.0,700.0 L1328.2,697.8 L1329.4,695.7 L1330.7,693.6 L1331.9,691.5 L1333.2,689.4 L1334.5,687.3 L1335.8,685.3 L1337.2,683.2 L1338.5,681.2 L1339.9,679.1 L1341.3,677.1 L1342.7,675.1 L1344.0,673.0 L1345.4,671.0 L1346.6,668.9 L1347.8,666.7 L1349.0,664.6 L1350.1,662.4 L1351.2,660.2 L1352.3,658.0 L1353.4,655.8 L1354.6,653.7 L1355.8,651.6 L1357.1,649.4 L1358.4,647.4 L1359.7,645.3 L1361.0,643.2 L1362.3,641.2 L1363.7,639.1 L1365.0,637.0 L1366.3,635.0 L1367.6,632.9 L1368.9,630.8 L1370.1,628.7 L1371.3,626.5 L1372.5,624.4 L1373.7,622.3 L1374.9,620.1 L1376.1,617.9 L1377.3,615.8 L1378.5,613.7 L1379.7,611.5 L1380.9,609.4 L1382.2,607.3 L1383.6,605.3 L1385.0,603.3 L1386.4,601.3 L1387.9,599.3 L1389.3,597.3 L1390.6,595.3 L1392.0,593.2 L1393.2,591.1 L1394.4,588.9 L1395.5,586.8 L1396.7,584.6 L1397.8,582.4 L1399.0,580.3 L1400.2,578.1 L1401.4,576.0 L1402.7,573.9 L1403.9,571.8 L1405.2,569.7 L1406.5,567.6 L1407.8,565.5 L1409.1,563.4 L1410.4,561.3 L1411.6,559.2 L1412.9,557.1 L1414.1,555.0 L1415.3,552.9 L1416.5,550.8 L1417.7,548.6 L1418.9,546.5 L1420.2,544.4 L1421.4,542.2 L1422.6,540.1 L1423.9,538.0 L1425.2,535.9 L1426.5,533.8 L1427.7,531.7 L1429.0,529.6 L1430.2,527.5 L1431.4,525.4 L1432.6,523.2 L1433.8,521.1 L1435.0,519.0 L1436.3,516.8 L1437.5,514.7 L1438.8,512.6 L1440.0,510.5 L1441.3,508.4 L1442.6,506.3 L1443.8,504.2 L1445.0,502.1 L1446.2,500.0 L1447.4,497.8 L1448.6,495.7 L1449.8,493.5 L1451.0,491.4 L1452.2,489.2 L1453.4,487.1 L1454.6,484.9 L1455.8,482.8 L1457.0,480.7 L1458.2,478.6 L1459.5,476.4 L1460.7,474.3 L1461.9,472.2 L1463.1,470.1 L1464.3,467.9 L1465.5,465.8 L1466.7,463.7 L1467.9,461.5 L1469.1,459.4 L1470.3,457.2 L1471.5,455.1 L1472.6,452.9 L1473.8,450.7 L1475.0,448.6 L1476.1,446.4 L1477.3,444.2 L1478.4,442.1 L1479.6,439.9 L1480.8,437.8 L1482.0,435.7 L1483.2,433.5 L1484.5,431.4 L1485.7,429.3 L1487.0,427.2 L1488.2,425.1 L1489.5,423.0 L1490.8,420.9 L1492.0,418.8 L1493.3,416.7 L1494.5,414.6 L1495.7,412.4 L1496.9,410.3 L1498.1,408.1 L1499.2,405.9 L1500.3,403.8 L1501.4,401.6 L1502.5,399.4 L1503.7,397.2 L1504.8,395.1 L1506.0,392.9 L1507.3,390.8 L1508.5,388.7 L1509.8,386.6 L1511.0,384.5 L1512.2,382.3 L1513.4,380.2 L1514.6,378.0 L1515.7,375.9 L1516.9,373.7 L1518.1,371.6 L1519.3,369.4 L1520.5,367.3 L1521.8,365.2 L1523.0,363.1 L1524.3,361.0 L1525.5,358.9 L1526.7,356.7 L1527.9,354.6 L1529.1,352.4 L1530.2,350.3 L1531.3,348.1 L1532.4,345.9 L1533.5,343.7 L1534.7,341.5 L1535.8,339.3 L1536.9,337.1 L1538.0,335.0 L1539.1,332.8 L1540.3,330.6 L1541.5,328.5 L1542.7,326.4 L1544.0,324.2 L1545.2,322.1 L1546.5,320.0 L1547.7,317.9 L1548.9,315.8 L1550.1,313.6 L1551.3,311.5 L1552.4,309.3 L1553.5,307.1 L1554.6,304.9 L1555.7,302.7 L1556.8,300.5 L1557.9,298.3 L1559.0,296.2 L1560.2,294.0 L1561.3,291.8 L1562.5,289.7 L1563.7,287.5 L1564.9,285.4 L1566.1,283.2 L1567.3,281.1 L1568.5,279.0 L1569.7,276.8 L1570.8,274.7 L1572.0,272.5 L1573.2,270.3 L1574.3,268.2 L1575.4,266.0 L1576.6,263.8 L1577.7,261.6 L1578.9,259.5 L1580.1,257.4 L1581.4,255.3 L1582.7,253.2 L1584.1,251.2 L1585.4,249.2 L1586.8,247.1 L1588.2,245.1 L1589.7,243.1 L1591.1,241.1 L1592.4,239.1 L1593.8,237.0" fill="none" stroke="#FBB92C" stroke-width="14" stroke-dasharray="0 14.6" stroke-linecap="round"/>
<path d="M1194.8,903.5 L1196.3,901.6 L1197.8,899.6 L1199.3,897.7 L1200.8,895.7 L1202.2,893.7 L1203.6,891.7 L1205.0,889.7 L1206.5,887.7 L1207.8,885.7 L1209.2,883.7 L1210.6,881.6 L1212.0,879.6 L1213.3,877.6 L1214.7,875.5 L1216.1,873.5 L1217.4,871.5 L1218.8,869.4 L1220.2,867.4 L1221.5,865.4 L1222.9,863.3 L1224.2,861.3 L1225.6,859.2 L1226.9,857.1 L1228.1,855.0 L1229.4,852.9 L1230.7,850.9 L1232.0,848.8 L1233.4,846.7 L1234.8,844.7 L1236.1,842.7 L1237.6,840.7 L1238.9,838.7 L1240.3,836.6 L1241.7,834.6 L1243.0,832.5 L1244.3,830.4 L1245.6,828.3 L1246.9,826.3 L1248.2,824.2 L1249.6,822.2 L1251.0,820.1 L1252.4,818.1 L1253.8,816.1 L1255.1,814.1 L1256.5,812.0 L1257.8,810.0 L1259.1,807.9 L1260.4,805.8 L1261.6,803.7 L1262.9,801.6 L1264.2,799.5 L1265.5,797.4 L1266.8,795.3 L1268.1,793.3 L1269.4,791.2 L1270.8,789.1 L1272.1,787.1 L1273.4,785.0 L1274.8,783.0 L1276.1,780.9 L1277.4,778.9 L1278.8,776.8 L1280.1,774.7 L1281.4,772.7 L1282.8,770.6 L1284.1,768.6 L1285.5,766.6 L1286.9,764.5 L1288.2,762.5 L1289.6,760.4 L1290.9,758.4 L1292.3,756.3 L1293.6,754.3 L1295.0,752.2 L1296.3,750.1 L1297.6,748.1 L1298.8,746.0 L1300.1,743.9 L1301.3,741.7 L1302.5,739.6 L1303.7,737.5 L1304.9,735.3 L1306.1,733.2 L1307.3,731.0 L1308.5,728.9 L1309.8,726.8 L1311.0,724.7 L1312.3,722.6 L1313.7,720.6 L1315.0,718.5 L1316.4,716.5 L1317.8,714.4 L1319.2,712.4 L1320.5,710.4 L1321.9,708.3 L1323.2,706.3 L1324.5,704.2 L1325.8,702.1 L1327.0,700.0 L1328.2,697.8 L1329.4,695.7 L1330.7,693.6 L1331.9,691.5 L1333.2,689.4 L1334.5,687.3 L1335.8,685.3 L1337.2,683.2 L1338.5,681.2 L1339.9,679.1 L1341.3,677.1 L1342.7,675.1 L1344.0,673.0 L1345.4,671.0 L1346.6,668.9 L1347.8,666.7 L1349.0,664.6 L1350.1,662.4 L1351.2,660.2 L1352.3,658.0 L1353.4,655.8 L1354.6,653.7 L1355.8,651.6 L1357.1,649.4 L1358.4,647.4 L1359.7,645.3 L1361.0,643.2 L1362.3,641.2 L1363.7,639.1 L1365.0,637.0 L1366.3,635.0 L1367.6,632.9 L1368.9,630.8 L1370.1,628.7 L1371.3,626.5 L1372.5,624.4 L1373.7,622.3 L1374.9,620.1 L1376.1,617.9 L1377.3,615.8 L1378.5,613.7 L1379.7,611.5 L1380.9,609.4 L1382.2,607.3 L1383.6,605.3 L1385.0,603.3 L1386.4,601.3 L1387.9,599.3 L1389.3,597.3 L1390.6,595.3 L1392.0,593.2 L1393.2,591.1 L1394.4,588.9 L1395.5,586.8 L1396.7,584.6 L1397.8,582.4 L1399.0,580.3 L1400.2,578.1 L1401.4,576.0 L1402.7,573.9 L1403.9,571.8 L1405.2,569.7 L1406.5,567.6 L1407.8,565.5 L1409.1,563.4 L1410.4,561.3 L1411.6,559.2 L1412.9,557.1 L1414.1,555.0 L1415.3,552.9 L1416.5,550.8 L1417.7,548.6 L1418.9,546.5 L1420.2,544.4 L1421.4,542.2 L1422.6,540.1 L1423.9,538.0 L1425.2,535.9 L1426.5,533.8 L1427.7,531.7 L1429.0,529.6 L1430.2,527.5 L1431.4,525.4 L1432.6,523.2 L1433.8,521.1 L1435.0,519.0 L1436.3,516.8 L1437.5,514.7 L1438.8,512.6 L1440.0,510.5 L1441.3,508.4 L1442.6,506.3 L1443.8,504.2 L1445.0,502.1 L1446.2,500.0 L1447.4,497.8 L1448.6,495.7 L1449.8,493.5 L1451.0,491.4 L1452.2,489.2 L1453.4,487.1 L1454.6,484.9 L1455.8,482.8 L1457.0,480.7 L1458.2,478.6 L1459.5,476.4 L1460.7,474.3 L1461.9,472.2 L1463.1,470.1 L1464.3,467.9 L1465.5,465.8 L1466.7,463.7 L1467.9,461.5 L1469.1,459.4 L1470.3,457.2 L1471.5,455.1 L1472.6,452.9 L1473.8,450.7 L1475.0,448.6 L1476.1,446.4 L1477.3,444.2 L1478.4,442.1 L1479.6,439.9 L1480.8,437.8 L1482.0,435.7 L1483.2,433.5 L1484.5,431.4 L1485.7,429.3 L1487.0,427.2 L1488.2,425.1 L1489.5,423.0 L1490.8,420.9 L1492.0,418.8 L1493.3,416.7 L1494.5,414.6 L1495.7,412.4 L1496.9,410.3 L1498.1,408.1 L1499.2,405.9 L1500.3,403.8 L1501.4,401.6 L1502.5,399.4 L1503.7,397.2 L1504.8,395.1 L1506.0,392.9 L1507.3,390.8 L1508.5,388.7 L1509.8,386.6 L1511.0,384.5 L1512.2,382.3 L1513.4,380.2 L1514.6,378.0 L1515.7,375.9 L1516.9,373.7 L1518.1,371.6 L1519.3,369.4 L1520.5,367.3 L1521.8,365.2 L1523.0,363.1 L1524.3,361.0 L1525.5,358.9 L1526.7,356.7 L1527.9,354.6 L1529.1,352.4 L1530.2,350.3 L1531.3,348.1 L1532.4,345.9 L1533.5,343.7 L1534.7,341.5 L1535.8,339.3 L1536.9,337.1 L1538.0,335.0 L1539.1,332.8 L1540.3,330.6 L1541.5,328.5 L1542.7,326.4 L1544.0,324.2 L1545.2,322.1 L1546.5,320.0 L1547.7,317.9 L1548.9,315.8 L1550.1,313.6 L1551.3,311.5 L1552.4,309.3 L1553.5,307.1 L1554.6,304.9 L1555.7,302.7 L1556.8,300.5 L1557.9,298.3 L1559.0,296.2 L1560.2,294.0 L1561.3,291.8 L1562.5,289.7 L1563.7,287.5 L1564.9,285.4 L1566.1,283.2 L1567.3,281.1 L1568.5,279.0 L1569.7,276.8 L1570.8,274.7 L1572.0,272.5 L1573.2,270.3 L1574.3,268.2 L1575.4,266.0 L1576.6,263.8 L1577.7,261.6 L1578.9,259.5 L1580.1,257.4 L1581.4,255.3 L1582.7,253.2 L1584.1,251.2 L1585.4,249.2 L1586.8,247.1 L1588.2,245.1 L1589.7,243.1 L1591.1,241.1 L1592.4,239.1 L1593.8,237.0" fill="none" stroke="#9CBF60" stroke-width="2.5" stroke-dasharray="0 14.6" stroke-linecap="round"/>
<path d="M1595.2,235.0 L1596.6,232.9 L1598.0,230.9 L1599.4,228.9 L1600.8,227.0 L1602.3,225.0 L1603.9,223.1 L1605.5,221.3 L1607.2,219.5 L1608.8,217.7 L1610.5,215.9 L1612.2,214.1 L1613.9,212.3 L1615.5,210.5 L1617.0,208.6 L1618.6,206.6 L1620.0,204.7 L1621.5,202.8 L1623.0,200.8 L1624.6,198.9 L1626.2,197.0 L1627.7,195.2 L1629.3,193.3 L1630.9,191.4 L1632.5,189.6 L1634.1,187.7 L1635.6,185.7 L1637.1,183.8 L1638.6,181.9 L1640.1,179.9 L1641.5,177.9 L1643.0,175.9 L1644.5,174.0 L1646.0,172.1 L1647.6,170.3 L1649.4,168.5 L1651.1,166.8 L1652.9,165.1 L1654.6,163.4 L1656.3,161.6 L1658.0,159.8 L1659.6,158.0 L1661.2,156.1 L1662.8,154.2 L1664.4,152.4 L1666.0,150.5 L1667.6,148.6 L1669.1,146.7 L1670.7,144.8 L1672.3,143.0 L1673.8,141.1 L1675.4,139.2 L1677.0,137.3 L1678.6,135.5 L1680.2,133.6 L1681.8,131.7 L1683.3,129.8 L1684.9,127.9 L1686.4,126.0 L1687.8,124.0 L1689.3,122.1 L1690.8,120.1 L1692.3,118.2 L1693.9,116.3 L1695.4,114.4 L1697.0,112.5 L1698.6,110.7 L1700.2,108.8 L1701.9,107.0 L1703.5,105.2 L1705.2,103.4 L1706.9,101.6 L1708.6,99.8 L1710.3,98.1 L1712.0,96.3 L1713.8,94.6 L1715.5,92.9 L1717.3,91.3 L1719.2,89.6 L1721.0,88.0 L1722.9,86.5 L1724.9,85.0" fill="none" stroke="#FBB92C" stroke-width="7"/>
<path d="M1595.2,235.0 L1596.6,232.9 L1598.0,230.9 L1599.4,228.9 L1600.8,227.0 L1602.3,225.0 L1603.9,223.1 L1605.5,221.3 L1607.2,219.5 L1608.8,217.7 L1610.5,215.9 L1612.2,214.1 L1613.9,212.3 L1615.5,210.5 L1617.0,208.6 L1618.6,206.6 L1620.0,204.7 L1621.5,202.8 L1623.0,200.8 L1624.6,198.9 L1626.2,197.0 L1627.7,195.2 L1629.3,193.3 L1630.9,191.4 L1632.5,189.6 L1634.1,187.7 L1635.6,185.7 L1637.1,183.8 L1638.6,181.9 L1640.1,179.9 L1641.5,177.9 L1643.0,175.9 L1644.5,174.0 L1646.0,172.1 L1647.6,170.3 L1649.4,168.5 L1651.1,166.8 L1652.9,165.1 L1654.6,163.4 L1656.3,161.6 L1658.0,159.8 L1659.6,158.0 L1661.2,156.1 L1662.8,154.2 L1664.4,152.4 L1666.0,150.5 L1667.6,148.6 L1669.1,146.7 L1670.7,144.8 L1672.3,143.0 L1673.8,141.1 L1675.4,139.2 L1677.0,137.3 L1678.6,135.5 L1680.2,133.6 L1681.8,131.7 L1683.3,129.8 L1684.9,127.9 L1686.4,126.0 L1687.8,124.0 L1689.3,122.1 L1690.8,120.1 L1692.3,118.2 L1693.9,116.3 L1695.4,114.4 L1697.0,112.5 L1698.6,110.7 L1700.2,108.8 L1701.9,107.0 L1703.5,105.2 L1705.2,103.4 L1706.9,101.6 L1708.6,99.8 L1710.3,98.1 L1712.0,96.3 L1713.8,94.6 L1715.5,92.9 L1717.3,91.3 L1719.2,89.6 L1721.0,88.0 L1722.9,86.5 L1724.9,85.0" fill="none" stroke="#FBB92C" stroke-width="11.5" stroke-dasharray="0 11" stroke-linecap="round"/>
</g>
<g fill="none" stroke="#00FFFF" stroke-width="4.5">
<circle cx="938" cy="234" r="25"/>
<circle cx="863.2" cy="626.7" r="25"/>
<circle cx="405.3" cy="838" r="25"/>
<circle cx="1784.3" cy="762.1" r="25"/>
</g>
<g font-family="Liberation Serif, serif" font-size="100" fill="#222222" text-anchor="middle">
<text x="367.5" y="1032.5">0</text>
<text x="668.5" y="1032.5">0.2</text>
<text x="969.5" y="1032.5">0.4</text>
<text x="1270.5" y="1032.5">0.6</text>
<text x="1571.5" y="1032.5">0.8</text>
<text x="1872.5" y="1032.5" transform="matrix(0.76 0 0 1 449.40 0)">1</text>
</g>
<g font-family="Liberation Serif, serif" font-size="100" fill="#222222" text-anchor="end">
<text x="330" y="937">0</text>
<text x="328" y="527">0.5</text>
<text x="329" y="118" transform="matrix(0.76 0 0 1 73.3 0)">1</text>
</g>
<text x="1034" y="1170.5" font-family="Liberation Serif, serif" font-size="100" fill="#222222">PC</text>
<text x="1159.5" y="1221.5" font-family="Liberation Serif, serif" font-size="82" fill="#222222" transform="matrix(0.76 0 0 1 283.20 0)">1</text>
<text transform="translate(108.8 591.8) rotate(-90)" font-family="Liberation Serif, serif" font-size="100" fill="#404040">PC<tspan font-size="82" dy="52">2</tspan></text>
<g font-family="Liberation Serif, serif" font-size="88" fill="#000">
<text x="1292" y="159">NR</text>
<text x="1292" y="262.5">ORF</text>
<text x="1292" y="366">IRF</text>
<text x="1292" y="469.5">BF</text>
<text x="1292" y="572.8">Cluster center</text>
<text x="1292" y="676.3">Contour</text>
</g>
<circle cx="1179.5" cy="128.0" r="8.6" fill="#000000"/>
<circle cx="1179.5" cy="231.5" r="8.6" fill="#FF0000"/>
<circle cx="1179.5" cy="335.0" r="8.6" fill="#0000FF"/>
<circle cx="1179.5" cy="438.5" r="8.6" fill="#00FF00"/>
<circle cx="1176" cy="540.5" r="25" fill="none" stroke="#00FFFF" stroke-width="4.5"/>
<g fill="none" stroke-width="5">
<ellipse cx="1180" cy="646.7" rx="92.6" ry="37.9" stroke="#2E2A87"/>
<ellipse cx="1179.7" cy="646.8" rx="62.5" ry="25.2" stroke="#13B3AB"/>
<ellipse cx="1179.1" cy="646.6" rx="31.1" ry="11.9" stroke="#F6F80A"/>
</g>
<g font-family="Liberation Serif, serif" font-size="90" fill="#000">
<text x="368.6" y="1353" textLength="95.2" lengthAdjust="spacingAndGlyphs">(<tspan font-weight="bold">a</tspan>)</text>
<text x="485.0" y="1353" textLength="129.6" lengthAdjust="spacingAndGlyphs">GG</text>
<text x="632.8" y="1353" textLength="366.8" lengthAdjust="spacingAndGlyphs">clustering</text>
<text x="1022.0" y="1353" textLength="244.0" lengthAdjust="spacingAndGlyphs">results</text>
<text x="1285.8" y="1353" textLength="73.8" lengthAdjust="spacingAndGlyphs">of</text>
<text x="1381.4" y="1353" textLength="115.8" lengthAdjust="spacingAndGlyphs">the</text>
<text x="1515.4" y="1353" textLength="184.6" lengthAdjust="spacingAndGlyphs">MPE</text>
</g>
</svg></body></html>
